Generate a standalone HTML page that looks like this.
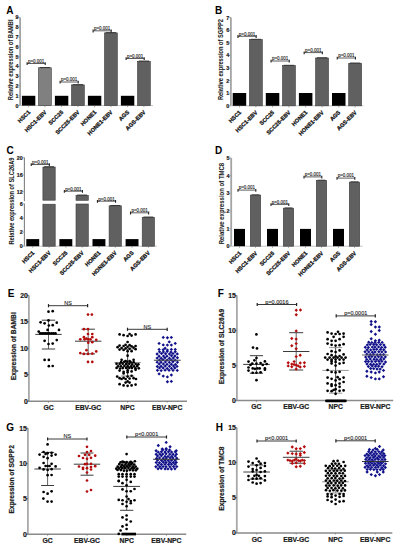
<!DOCTYPE html><html><head><meta charset="utf-8"><style>html,body{margin:0;padding:0;background:#fff;width:400px;height:550px;overflow:hidden;position:relative}text{font-family:"Liberation Sans", sans-serif}</style></head><body><svg width="400" height="550" viewBox="0 0 400 550" style="position:absolute;left:0;top:0;font-family:'Liberation Sans', sans-serif">
<rect width="400" height="550" fill="#ffffff"/>
<text transform="translate(6.20 13.50) scale(1.0 1)" font-size="10.0" font-weight="bold" fill="#000">A</text>
<text transform="translate(12.90 59.80) rotate(-90) scale(0.9090909090909091 1)" font-size="6.2700000000000005" font-weight="bold" text-anchor="middle" fill="#1a1a1a" stroke="#1a1a1a" stroke-width="0.05">Relative expression of BAMBI</text>
<line x1="20.10" y1="17.40" x2="20.10" y2="105.60" stroke="#a4a4a4" stroke-width="1.8"/>
<line x1="18.20" y1="105.60" x2="20.10" y2="105.60" stroke="#999" stroke-width="0.8"/>
<text transform="translate(18.40 107.65) scale(0.92 1)" font-size="5.8" font-weight="bold" text-anchor="end" fill="#1a1a1a" stroke="#1a1a1a" stroke-width="0.2">0</text>
<line x1="18.20" y1="95.80" x2="20.10" y2="95.80" stroke="#999" stroke-width="0.8"/>
<text transform="translate(18.40 97.85) scale(0.92 1)" font-size="5.8" font-weight="bold" text-anchor="end" fill="#1a1a1a" stroke="#1a1a1a" stroke-width="0.2">1</text>
<line x1="18.20" y1="86.00" x2="20.10" y2="86.00" stroke="#999" stroke-width="0.8"/>
<text transform="translate(18.40 88.05) scale(0.92 1)" font-size="5.8" font-weight="bold" text-anchor="end" fill="#1a1a1a" stroke="#1a1a1a" stroke-width="0.2">2</text>
<line x1="18.20" y1="76.20" x2="20.10" y2="76.20" stroke="#999" stroke-width="0.8"/>
<text transform="translate(18.40 78.25) scale(0.92 1)" font-size="5.8" font-weight="bold" text-anchor="end" fill="#1a1a1a" stroke="#1a1a1a" stroke-width="0.2">3</text>
<line x1="18.20" y1="66.40" x2="20.10" y2="66.40" stroke="#999" stroke-width="0.8"/>
<text transform="translate(18.40 68.45) scale(0.92 1)" font-size="5.8" font-weight="bold" text-anchor="end" fill="#1a1a1a" stroke="#1a1a1a" stroke-width="0.2">4</text>
<line x1="18.20" y1="56.60" x2="20.10" y2="56.60" stroke="#999" stroke-width="0.8"/>
<text transform="translate(18.40 58.65) scale(0.92 1)" font-size="5.8" font-weight="bold" text-anchor="end" fill="#1a1a1a" stroke="#1a1a1a" stroke-width="0.2">5</text>
<line x1="18.20" y1="46.80" x2="20.10" y2="46.80" stroke="#999" stroke-width="0.8"/>
<text transform="translate(18.40 48.85) scale(0.92 1)" font-size="5.8" font-weight="bold" text-anchor="end" fill="#1a1a1a" stroke="#1a1a1a" stroke-width="0.2">6</text>
<line x1="18.20" y1="37.00" x2="20.10" y2="37.00" stroke="#999" stroke-width="0.8"/>
<text transform="translate(18.40 39.05) scale(0.92 1)" font-size="5.8" font-weight="bold" text-anchor="end" fill="#1a1a1a" stroke="#1a1a1a" stroke-width="0.2">7</text>
<line x1="18.20" y1="27.20" x2="20.10" y2="27.20" stroke="#999" stroke-width="0.8"/>
<text transform="translate(18.40 29.25) scale(0.92 1)" font-size="5.8" font-weight="bold" text-anchor="end" fill="#1a1a1a" stroke="#1a1a1a" stroke-width="0.2">8</text>
<line x1="18.20" y1="17.40" x2="20.10" y2="17.40" stroke="#999" stroke-width="0.8"/>
<text transform="translate(18.40 19.45) scale(0.92 1)" font-size="5.8" font-weight="bold" text-anchor="end" fill="#1a1a1a" stroke="#1a1a1a" stroke-width="0.2">9</text>
<line x1="20.10" y1="105.60" x2="153.00" y2="105.60" stroke="#c4c4c4" stroke-width="1.0"/>
<rect x="21.90" y="95.80" width="13.40" height="9.80" fill="#000"/>
<rect x="38.50" y="67.80" width="12.80" height="37.80" fill="#808080" stroke="#3a3a3a" stroke-width="0.6"/>
<line x1="39.70" y1="67.50" x2="50.10" y2="67.50" stroke="#222" stroke-width="0.8"/>
<line x1="28.60" y1="105.60" x2="28.60" y2="107.20" stroke="#6e6e6e" stroke-width="0.6"/>
<line x1="44.90" y1="105.60" x2="44.90" y2="107.20" stroke="#6e6e6e" stroke-width="0.6"/>
<line x1="27.10" y1="63.50" x2="45.20" y2="63.50" stroke="#333" stroke-width="0.8"/>
<line x1="27.10" y1="62.30" x2="27.10" y2="65.10" stroke="#222" stroke-width="1.1"/>
<line x1="45.20" y1="62.30" x2="45.20" y2="65.10" stroke="#222" stroke-width="1.1"/>
<text x="36.15" y="62.80" font-size="4.5" font-weight="normal" text-anchor="middle" fill="#222" stroke="#222" stroke-width="0.12">p=0.001</text>
<text x="30.60" y="112.60" font-size="5.6" font-weight="bold" text-anchor="end" fill="#111" stroke="#111" stroke-width="0.28" transform="rotate(-45 30.60 112.60)">HSC1</text>
<text x="46.90" y="112.60" font-size="5.6" font-weight="bold" text-anchor="end" fill="#111" stroke="#111" stroke-width="0.28" transform="rotate(-45 46.90 112.60)">HSC1-EBV</text>
<rect x="54.90" y="95.80" width="13.40" height="9.80" fill="#000"/>
<rect x="71.50" y="84.90" width="12.80" height="20.70" fill="#606060" stroke="#3a3a3a" stroke-width="0.6"/>
<line x1="72.70" y1="84.60" x2="83.10" y2="84.60" stroke="#222" stroke-width="0.8"/>
<line x1="61.60" y1="105.60" x2="61.60" y2="107.20" stroke="#6e6e6e" stroke-width="0.6"/>
<line x1="77.90" y1="105.60" x2="77.90" y2="107.20" stroke="#6e6e6e" stroke-width="0.6"/>
<line x1="60.10" y1="82.00" x2="78.20" y2="82.00" stroke="#333" stroke-width="0.8"/>
<line x1="60.10" y1="80.80" x2="60.10" y2="83.60" stroke="#222" stroke-width="1.1"/>
<line x1="78.20" y1="80.80" x2="78.20" y2="83.60" stroke="#222" stroke-width="1.1"/>
<text x="69.15" y="81.30" font-size="4.5" font-weight="normal" text-anchor="middle" fill="#222" stroke="#222" stroke-width="0.12">p=0.001</text>
<text x="63.60" y="112.60" font-size="5.6" font-weight="bold" text-anchor="end" fill="#111" stroke="#111" stroke-width="0.28" transform="rotate(-45 63.60 112.60)">SCC25</text>
<text x="79.90" y="112.60" font-size="5.6" font-weight="bold" text-anchor="end" fill="#111" stroke="#111" stroke-width="0.28" transform="rotate(-45 79.90 112.60)">SCC25-EBV</text>
<rect x="87.90" y="95.80" width="13.40" height="9.80" fill="#000"/>
<rect x="104.50" y="32.90" width="12.80" height="72.70" fill="#606060" stroke="#3a3a3a" stroke-width="0.6"/>
<line x1="105.70" y1="32.60" x2="116.10" y2="32.60" stroke="#222" stroke-width="0.8"/>
<line x1="94.60" y1="105.60" x2="94.60" y2="107.20" stroke="#6e6e6e" stroke-width="0.6"/>
<line x1="110.90" y1="105.60" x2="110.90" y2="107.20" stroke="#6e6e6e" stroke-width="0.6"/>
<line x1="93.10" y1="30.80" x2="111.20" y2="30.80" stroke="#333" stroke-width="0.8"/>
<line x1="93.10" y1="29.60" x2="93.10" y2="32.40" stroke="#222" stroke-width="1.1"/>
<line x1="111.20" y1="29.60" x2="111.20" y2="32.40" stroke="#222" stroke-width="1.1"/>
<text x="102.15" y="30.10" font-size="4.5" font-weight="normal" text-anchor="middle" fill="#222" stroke="#222" stroke-width="0.12">p=0.001</text>
<text x="96.60" y="112.60" font-size="5.6" font-weight="bold" text-anchor="end" fill="#111" stroke="#111" stroke-width="0.28" transform="rotate(-45 96.60 112.60)">HONE1</text>
<text x="112.90" y="112.60" font-size="5.6" font-weight="bold" text-anchor="end" fill="#111" stroke="#111" stroke-width="0.28" transform="rotate(-45 112.90 112.60)">HONE1-EBV</text>
<rect x="120.90" y="95.80" width="13.40" height="9.80" fill="#000"/>
<rect x="137.50" y="61.30" width="12.80" height="44.30" fill="#606060" stroke="#3a3a3a" stroke-width="0.6"/>
<line x1="138.70" y1="61.00" x2="149.10" y2="61.00" stroke="#222" stroke-width="0.8"/>
<line x1="127.60" y1="105.60" x2="127.60" y2="107.20" stroke="#6e6e6e" stroke-width="0.6"/>
<line x1="143.90" y1="105.60" x2="143.90" y2="107.20" stroke="#6e6e6e" stroke-width="0.6"/>
<line x1="126.10" y1="58.50" x2="144.20" y2="58.50" stroke="#333" stroke-width="0.8"/>
<line x1="126.10" y1="57.30" x2="126.10" y2="60.10" stroke="#222" stroke-width="1.1"/>
<line x1="144.20" y1="57.30" x2="144.20" y2="60.10" stroke="#222" stroke-width="1.1"/>
<text x="135.15" y="57.80" font-size="4.5" font-weight="normal" text-anchor="middle" fill="#222" stroke="#222" stroke-width="0.12">p=0.001</text>
<text x="129.60" y="112.60" font-size="5.6" font-weight="bold" text-anchor="end" fill="#111" stroke="#111" stroke-width="0.28" transform="rotate(-45 129.60 112.60)">AGS</text>
<text x="145.90" y="112.60" font-size="5.6" font-weight="bold" text-anchor="end" fill="#111" stroke="#111" stroke-width="0.28" transform="rotate(-45 145.90 112.60)">AGS-EBV</text>
<text transform="translate(214.90 13.50) scale(1.0 1)" font-size="10.0" font-weight="bold" fill="#000">B</text>
<text transform="translate(222.90 59.50) rotate(-90) scale(0.9090909090909091 1)" font-size="6.2700000000000005" font-weight="bold" text-anchor="middle" fill="#1a1a1a" stroke="#1a1a1a" stroke-width="0.05">Relative expression of SGPP2</text>
<line x1="230.90" y1="17.60" x2="230.90" y2="105.80" stroke="#a4a4a4" stroke-width="1.8"/>
<line x1="229.00" y1="105.80" x2="230.90" y2="105.80" stroke="#999" stroke-width="0.8"/>
<text transform="translate(229.20 107.85) scale(0.92 1)" font-size="5.8" font-weight="bold" text-anchor="end" fill="#1a1a1a" stroke="#1a1a1a" stroke-width="0.2">0</text>
<line x1="229.00" y1="93.20" x2="230.90" y2="93.20" stroke="#999" stroke-width="0.8"/>
<text transform="translate(229.20 95.25) scale(0.92 1)" font-size="5.8" font-weight="bold" text-anchor="end" fill="#1a1a1a" stroke="#1a1a1a" stroke-width="0.2">1</text>
<line x1="229.00" y1="80.60" x2="230.90" y2="80.60" stroke="#999" stroke-width="0.8"/>
<text transform="translate(229.20 82.65) scale(0.92 1)" font-size="5.8" font-weight="bold" text-anchor="end" fill="#1a1a1a" stroke="#1a1a1a" stroke-width="0.2">2</text>
<line x1="229.00" y1="68.00" x2="230.90" y2="68.00" stroke="#999" stroke-width="0.8"/>
<text transform="translate(229.20 70.05) scale(0.92 1)" font-size="5.8" font-weight="bold" text-anchor="end" fill="#1a1a1a" stroke="#1a1a1a" stroke-width="0.2">3</text>
<line x1="229.00" y1="55.40" x2="230.90" y2="55.40" stroke="#999" stroke-width="0.8"/>
<text transform="translate(229.20 57.45) scale(0.92 1)" font-size="5.8" font-weight="bold" text-anchor="end" fill="#1a1a1a" stroke="#1a1a1a" stroke-width="0.2">4</text>
<line x1="229.00" y1="42.80" x2="230.90" y2="42.80" stroke="#999" stroke-width="0.8"/>
<text transform="translate(229.20 44.85) scale(0.92 1)" font-size="5.8" font-weight="bold" text-anchor="end" fill="#1a1a1a" stroke="#1a1a1a" stroke-width="0.2">5</text>
<line x1="229.00" y1="30.20" x2="230.90" y2="30.20" stroke="#999" stroke-width="0.8"/>
<text transform="translate(229.20 32.25) scale(0.92 1)" font-size="5.8" font-weight="bold" text-anchor="end" fill="#1a1a1a" stroke="#1a1a1a" stroke-width="0.2">6</text>
<line x1="229.00" y1="17.60" x2="230.90" y2="17.60" stroke="#999" stroke-width="0.8"/>
<text transform="translate(229.20 19.65) scale(0.92 1)" font-size="5.8" font-weight="bold" text-anchor="end" fill="#1a1a1a" stroke="#1a1a1a" stroke-width="0.2">7</text>
<line x1="230.90" y1="105.80" x2="363.40" y2="105.80" stroke="#c4c4c4" stroke-width="1.0"/>
<rect x="232.70" y="93.00" width="13.50" height="12.80" fill="#000"/>
<rect x="249.40" y="39.60" width="12.90" height="66.20" fill="#606060" stroke="#3a3a3a" stroke-width="0.6"/>
<line x1="250.60" y1="39.30" x2="261.10" y2="39.30" stroke="#222" stroke-width="0.8"/>
<line x1="239.45" y1="105.80" x2="239.45" y2="107.40" stroke="#6e6e6e" stroke-width="0.6"/>
<line x1="255.85" y1="105.80" x2="255.85" y2="107.40" stroke="#6e6e6e" stroke-width="0.6"/>
<line x1="237.95" y1="36.30" x2="256.15" y2="36.30" stroke="#333" stroke-width="0.8"/>
<line x1="237.95" y1="35.10" x2="237.95" y2="37.90" stroke="#222" stroke-width="1.1"/>
<line x1="256.15" y1="35.10" x2="256.15" y2="37.90" stroke="#222" stroke-width="1.1"/>
<text x="247.05" y="35.60" font-size="4.5" font-weight="normal" text-anchor="middle" fill="#222" stroke="#222" stroke-width="0.12">p=0.001</text>
<text x="241.45" y="112.80" font-size="5.6" font-weight="bold" text-anchor="end" fill="#111" stroke="#111" stroke-width="0.28" transform="rotate(-45 241.45 112.80)">HSC1</text>
<text x="257.85" y="112.80" font-size="5.6" font-weight="bold" text-anchor="end" fill="#111" stroke="#111" stroke-width="0.28" transform="rotate(-45 257.85 112.80)">HSC1-EBV</text>
<rect x="265.80" y="93.00" width="13.50" height="12.80" fill="#000"/>
<rect x="282.50" y="65.60" width="12.90" height="40.20" fill="#606060" stroke="#3a3a3a" stroke-width="0.6"/>
<line x1="283.70" y1="65.30" x2="294.20" y2="65.30" stroke="#222" stroke-width="0.8"/>
<line x1="272.55" y1="105.80" x2="272.55" y2="107.40" stroke="#6e6e6e" stroke-width="0.6"/>
<line x1="288.95" y1="105.80" x2="288.95" y2="107.40" stroke="#6e6e6e" stroke-width="0.6"/>
<line x1="271.05" y1="61.00" x2="289.25" y2="61.00" stroke="#333" stroke-width="0.8"/>
<line x1="271.05" y1="59.80" x2="271.05" y2="62.60" stroke="#222" stroke-width="1.1"/>
<line x1="289.25" y1="59.80" x2="289.25" y2="62.60" stroke="#222" stroke-width="1.1"/>
<text x="280.15" y="60.30" font-size="4.5" font-weight="normal" text-anchor="middle" fill="#222" stroke="#222" stroke-width="0.12">p=0.001</text>
<text x="274.55" y="112.80" font-size="5.6" font-weight="bold" text-anchor="end" fill="#111" stroke="#111" stroke-width="0.28" transform="rotate(-45 274.55 112.80)">SCC25</text>
<text x="290.95" y="112.80" font-size="5.6" font-weight="bold" text-anchor="end" fill="#111" stroke="#111" stroke-width="0.28" transform="rotate(-45 290.95 112.80)">SCC25-EBV</text>
<rect x="298.90" y="93.00" width="13.50" height="12.80" fill="#000"/>
<rect x="315.60" y="58.00" width="12.90" height="47.80" fill="#606060" stroke="#3a3a3a" stroke-width="0.6"/>
<line x1="316.80" y1="57.70" x2="327.30" y2="57.70" stroke="#222" stroke-width="0.8"/>
<line x1="305.65" y1="105.80" x2="305.65" y2="107.40" stroke="#6e6e6e" stroke-width="0.6"/>
<line x1="322.05" y1="105.80" x2="322.05" y2="107.40" stroke="#6e6e6e" stroke-width="0.6"/>
<line x1="304.15" y1="52.60" x2="322.35" y2="52.60" stroke="#333" stroke-width="0.8"/>
<line x1="304.15" y1="51.40" x2="304.15" y2="54.20" stroke="#222" stroke-width="1.1"/>
<line x1="322.35" y1="51.40" x2="322.35" y2="54.20" stroke="#222" stroke-width="1.1"/>
<text x="313.25" y="51.90" font-size="4.5" font-weight="normal" text-anchor="middle" fill="#222" stroke="#222" stroke-width="0.12">p=0.001</text>
<text x="307.65" y="112.80" font-size="5.6" font-weight="bold" text-anchor="end" fill="#111" stroke="#111" stroke-width="0.28" transform="rotate(-45 307.65 112.80)">HONE1</text>
<text x="324.05" y="112.80" font-size="5.6" font-weight="bold" text-anchor="end" fill="#111" stroke="#111" stroke-width="0.28" transform="rotate(-45 324.05 112.80)">HONE1-EBV</text>
<rect x="332.00" y="93.00" width="13.50" height="12.80" fill="#000"/>
<rect x="348.70" y="63.30" width="12.90" height="42.50" fill="#606060" stroke="#3a3a3a" stroke-width="0.6"/>
<line x1="349.90" y1="63.00" x2="360.40" y2="63.00" stroke="#222" stroke-width="0.8"/>
<line x1="338.75" y1="105.80" x2="338.75" y2="107.40" stroke="#6e6e6e" stroke-width="0.6"/>
<line x1="355.15" y1="105.80" x2="355.15" y2="107.40" stroke="#6e6e6e" stroke-width="0.6"/>
<line x1="337.25" y1="58.00" x2="355.45" y2="58.00" stroke="#333" stroke-width="0.8"/>
<line x1="337.25" y1="56.80" x2="337.25" y2="59.60" stroke="#222" stroke-width="1.1"/>
<line x1="355.45" y1="56.80" x2="355.45" y2="59.60" stroke="#222" stroke-width="1.1"/>
<text x="346.35" y="57.30" font-size="4.5" font-weight="normal" text-anchor="middle" fill="#222" stroke="#222" stroke-width="0.12">p=0.001</text>
<text x="340.75" y="112.80" font-size="5.6" font-weight="bold" text-anchor="end" fill="#111" stroke="#111" stroke-width="0.28" transform="rotate(-45 340.75 112.80)">AGS</text>
<text x="357.15" y="112.80" font-size="5.6" font-weight="bold" text-anchor="end" fill="#111" stroke="#111" stroke-width="0.28" transform="rotate(-45 357.15 112.80)">AGS-EBV</text>
<text transform="translate(6.40 153.50) scale(1.0 1)" font-size="10.0" font-weight="bold" fill="#000">C</text>
<text transform="translate(14.20 201.00) rotate(-90) scale(0.9090909090909091 1)" font-size="6.2700000000000005" font-weight="bold" text-anchor="middle" fill="#1a1a1a" stroke="#1a1a1a" stroke-width="0.05">Relative expression of SLC26A9</text>
<line x1="24.40" y1="157.60" x2="24.40" y2="201.30" stroke="#808080" stroke-width="1.1"/>
<line x1="24.40" y1="203.60" x2="24.40" y2="246.20" stroke="#808080" stroke-width="1.1"/>
<line x1="22.50" y1="157.75" x2="24.40" y2="157.75" stroke="#999" stroke-width="0.8"/>
<text transform="translate(22.70 159.80) scale(0.92 1)" font-size="5.8" font-weight="bold" text-anchor="end" fill="#1a1a1a" stroke="#1a1a1a" stroke-width="0.2">20</text>
<line x1="22.50" y1="175.00" x2="24.40" y2="175.00" stroke="#999" stroke-width="0.8"/>
<text transform="translate(22.70 177.05) scale(0.92 1)" font-size="5.8" font-weight="bold" text-anchor="end" fill="#1a1a1a" stroke="#1a1a1a" stroke-width="0.2">16</text>
<line x1="22.50" y1="191.75" x2="24.40" y2="191.75" stroke="#999" stroke-width="0.8"/>
<text transform="translate(22.70 193.80) scale(0.92 1)" font-size="5.8" font-weight="bold" text-anchor="end" fill="#1a1a1a" stroke="#1a1a1a" stroke-width="0.2">12</text>
<line x1="22.50" y1="203.80" x2="24.40" y2="203.80" stroke="#999" stroke-width="0.8"/>
<text transform="translate(22.70 205.85) scale(0.92 1)" font-size="5.8" font-weight="bold" text-anchor="end" fill="#1a1a1a" stroke="#1a1a1a" stroke-width="0.2">6</text>
<line x1="22.50" y1="218.00" x2="24.40" y2="218.00" stroke="#999" stroke-width="0.8"/>
<text transform="translate(22.70 220.05) scale(0.92 1)" font-size="5.8" font-weight="bold" text-anchor="end" fill="#1a1a1a" stroke="#1a1a1a" stroke-width="0.2">4</text>
<line x1="22.50" y1="232.10" x2="24.40" y2="232.10" stroke="#999" stroke-width="0.8"/>
<text transform="translate(22.70 234.15) scale(0.92 1)" font-size="5.8" font-weight="bold" text-anchor="end" fill="#1a1a1a" stroke="#1a1a1a" stroke-width="0.2">2</text>
<line x1="22.50" y1="246.20" x2="24.40" y2="246.20" stroke="#999" stroke-width="0.8"/>
<text transform="translate(22.70 248.25) scale(0.92 1)" font-size="5.8" font-weight="bold" text-anchor="end" fill="#1a1a1a" stroke="#1a1a1a" stroke-width="0.2">0</text>
<line x1="24.40" y1="246.20" x2="157.00" y2="246.20" stroke="#c4c4c4" stroke-width="1.0"/>
<rect x="26.30" y="239.10" width="12.90" height="7.10" fill="#000"/>
<rect x="42.90" y="167.00" width="12.30" height="33.20" fill="#606060" stroke="#3a3a3a" stroke-width="0.6"/>
<rect x="42.90" y="204.20" width="12.30" height="42.00" fill="#606060" stroke="#3a3a3a" stroke-width="0.6"/>
<line x1="44.10" y1="166.70" x2="54.00" y2="166.70" stroke="#222" stroke-width="0.8"/>
<line x1="32.75" y1="246.20" x2="32.75" y2="247.80" stroke="#6e6e6e" stroke-width="0.6"/>
<line x1="49.05" y1="246.20" x2="49.05" y2="247.80" stroke="#6e6e6e" stroke-width="0.6"/>
<line x1="31.25" y1="164.50" x2="49.35" y2="164.50" stroke="#333" stroke-width="0.8"/>
<line x1="31.25" y1="163.30" x2="31.25" y2="166.10" stroke="#222" stroke-width="1.1"/>
<line x1="49.35" y1="163.30" x2="49.35" y2="166.10" stroke="#222" stroke-width="1.1"/>
<text x="40.30" y="163.80" font-size="4.5" font-weight="normal" text-anchor="middle" fill="#222" stroke="#222" stroke-width="0.12">p=0.001</text>
<text x="34.75" y="253.20" font-size="5.6" font-weight="bold" text-anchor="end" fill="#111" stroke="#111" stroke-width="0.28" transform="rotate(-45 34.75 253.20)">HSC1</text>
<text x="51.05" y="253.20" font-size="5.6" font-weight="bold" text-anchor="end" fill="#111" stroke="#111" stroke-width="0.28" transform="rotate(-45 51.05 253.20)">HSC1-EBV</text>
<rect x="59.40" y="239.10" width="12.90" height="7.10" fill="#000"/>
<rect x="76.00" y="195.30" width="12.30" height="5.00" fill="#606060" stroke="#3a3a3a" stroke-width="0.6"/>
<rect x="76.00" y="204.00" width="12.30" height="42.20" fill="#606060" stroke="#3a3a3a" stroke-width="0.6"/>
<line x1="77.20" y1="195.00" x2="87.10" y2="195.00" stroke="#222" stroke-width="0.8"/>
<line x1="65.85" y1="246.20" x2="65.85" y2="247.80" stroke="#6e6e6e" stroke-width="0.6"/>
<line x1="82.15" y1="246.20" x2="82.15" y2="247.80" stroke="#6e6e6e" stroke-width="0.6"/>
<line x1="64.35" y1="191.20" x2="82.45" y2="191.20" stroke="#333" stroke-width="0.8"/>
<line x1="64.35" y1="190.00" x2="64.35" y2="192.80" stroke="#222" stroke-width="1.1"/>
<line x1="82.45" y1="190.00" x2="82.45" y2="192.80" stroke="#222" stroke-width="1.1"/>
<text x="73.40" y="190.50" font-size="4.5" font-weight="normal" text-anchor="middle" fill="#222" stroke="#222" stroke-width="0.12">p=0.001</text>
<text x="67.85" y="253.20" font-size="5.6" font-weight="bold" text-anchor="end" fill="#111" stroke="#111" stroke-width="0.28" transform="rotate(-45 67.85 253.20)">SCC25</text>
<text x="84.15" y="253.20" font-size="5.6" font-weight="bold" text-anchor="end" fill="#111" stroke="#111" stroke-width="0.28" transform="rotate(-45 84.15 253.20)">SCC25-EBV</text>
<rect x="92.50" y="239.10" width="12.90" height="7.10" fill="#000"/>
<rect x="109.10" y="205.80" width="12.30" height="40.40" fill="#606060" stroke="#3a3a3a" stroke-width="0.6"/>
<line x1="110.30" y1="205.50" x2="120.20" y2="205.50" stroke="#222" stroke-width="0.8"/>
<line x1="98.95" y1="246.20" x2="98.95" y2="247.80" stroke="#6e6e6e" stroke-width="0.6"/>
<line x1="115.25" y1="246.20" x2="115.25" y2="247.80" stroke="#6e6e6e" stroke-width="0.6"/>
<line x1="97.45" y1="201.20" x2="115.55" y2="201.20" stroke="#333" stroke-width="0.8"/>
<line x1="97.45" y1="200.00" x2="97.45" y2="202.80" stroke="#222" stroke-width="1.1"/>
<line x1="115.55" y1="200.00" x2="115.55" y2="202.80" stroke="#222" stroke-width="1.1"/>
<text x="106.50" y="200.50" font-size="4.5" font-weight="normal" text-anchor="middle" fill="#222" stroke="#222" stroke-width="0.12">p=0.001</text>
<text x="100.95" y="253.20" font-size="5.6" font-weight="bold" text-anchor="end" fill="#111" stroke="#111" stroke-width="0.28" transform="rotate(-45 100.95 253.20)">HONE1</text>
<text x="117.25" y="253.20" font-size="5.6" font-weight="bold" text-anchor="end" fill="#111" stroke="#111" stroke-width="0.28" transform="rotate(-45 117.25 253.20)">HONE1-EBV</text>
<rect x="125.60" y="239.10" width="12.90" height="7.10" fill="#000"/>
<rect x="142.20" y="217.30" width="12.30" height="28.90" fill="#606060" stroke="#3a3a3a" stroke-width="0.6"/>
<line x1="143.40" y1="217.00" x2="153.30" y2="217.00" stroke="#222" stroke-width="0.8"/>
<line x1="132.05" y1="246.20" x2="132.05" y2="247.80" stroke="#6e6e6e" stroke-width="0.6"/>
<line x1="148.35" y1="246.20" x2="148.35" y2="247.80" stroke="#6e6e6e" stroke-width="0.6"/>
<line x1="130.55" y1="212.80" x2="148.65" y2="212.80" stroke="#333" stroke-width="0.8"/>
<line x1="130.55" y1="211.60" x2="130.55" y2="214.40" stroke="#222" stroke-width="1.1"/>
<line x1="148.65" y1="211.60" x2="148.65" y2="214.40" stroke="#222" stroke-width="1.1"/>
<text x="139.60" y="212.10" font-size="4.5" font-weight="normal" text-anchor="middle" fill="#222" stroke="#222" stroke-width="0.12">p=0.001</text>
<text x="134.05" y="253.20" font-size="5.6" font-weight="bold" text-anchor="end" fill="#111" stroke="#111" stroke-width="0.28" transform="rotate(-45 134.05 253.20)">AGS</text>
<text x="150.35" y="253.20" font-size="5.6" font-weight="bold" text-anchor="end" fill="#111" stroke="#111" stroke-width="0.28" transform="rotate(-45 150.35 253.20)">AGS-EBV</text>
<text transform="translate(214.90 153.50) scale(1.0 1)" font-size="10.0" font-weight="bold" fill="#000">D</text>
<text transform="translate(223.60 203.60) rotate(-90) scale(0.9090909090909091 1)" font-size="6.6000000000000005" font-weight="bold" text-anchor="middle" fill="#1a1a1a" stroke="#1a1a1a" stroke-width="0.05">Relative expression of TMC8</text>
<line x1="231.20" y1="158.00" x2="231.20" y2="246.20" stroke="#a4a4a4" stroke-width="1.8"/>
<line x1="229.30" y1="246.20" x2="231.20" y2="246.20" stroke="#999" stroke-width="0.8"/>
<text transform="translate(229.50 248.25) scale(0.92 1)" font-size="5.8" font-weight="bold" text-anchor="end" fill="#1a1a1a" stroke="#1a1a1a" stroke-width="0.2">0</text>
<line x1="229.30" y1="228.56" x2="231.20" y2="228.56" stroke="#999" stroke-width="0.8"/>
<text transform="translate(229.50 230.61) scale(0.92 1)" font-size="5.8" font-weight="bold" text-anchor="end" fill="#1a1a1a" stroke="#1a1a1a" stroke-width="0.2">1</text>
<line x1="229.30" y1="210.92" x2="231.20" y2="210.92" stroke="#999" stroke-width="0.8"/>
<text transform="translate(229.50 212.97) scale(0.92 1)" font-size="5.8" font-weight="bold" text-anchor="end" fill="#1a1a1a" stroke="#1a1a1a" stroke-width="0.2">2</text>
<line x1="229.30" y1="193.28" x2="231.20" y2="193.28" stroke="#999" stroke-width="0.8"/>
<text transform="translate(229.50 195.33) scale(0.92 1)" font-size="5.8" font-weight="bold" text-anchor="end" fill="#1a1a1a" stroke="#1a1a1a" stroke-width="0.2">3</text>
<line x1="229.30" y1="175.64" x2="231.20" y2="175.64" stroke="#999" stroke-width="0.8"/>
<text transform="translate(229.50 177.69) scale(0.92 1)" font-size="5.8" font-weight="bold" text-anchor="end" fill="#1a1a1a" stroke="#1a1a1a" stroke-width="0.2">4</text>
<line x1="229.30" y1="158.00" x2="231.20" y2="158.00" stroke="#999" stroke-width="0.8"/>
<text transform="translate(229.50 160.05) scale(0.92 1)" font-size="5.8" font-weight="bold" text-anchor="end" fill="#1a1a1a" stroke="#1a1a1a" stroke-width="0.2">5</text>
<line x1="231.20" y1="246.20" x2="362.50" y2="246.20" stroke="#c4c4c4" stroke-width="1.0"/>
<rect x="234.00" y="228.90" width="11.00" height="17.30" fill="#000"/>
<rect x="250.30" y="195.10" width="10.40" height="51.10" fill="#606060" stroke="#3a3a3a" stroke-width="0.6"/>
<line x1="251.50" y1="194.80" x2="259.50" y2="194.80" stroke="#222" stroke-width="0.8"/>
<line x1="239.50" y1="246.20" x2="239.50" y2="247.80" stroke="#6e6e6e" stroke-width="0.6"/>
<line x1="255.50" y1="246.20" x2="255.50" y2="247.80" stroke="#6e6e6e" stroke-width="0.6"/>
<line x1="238.00" y1="190.10" x2="255.80" y2="190.10" stroke="#333" stroke-width="0.8"/>
<line x1="238.00" y1="188.90" x2="238.00" y2="191.70" stroke="#222" stroke-width="1.1"/>
<line x1="255.80" y1="188.90" x2="255.80" y2="191.70" stroke="#222" stroke-width="1.1"/>
<text x="246.90" y="189.40" font-size="4.5" font-weight="normal" text-anchor="middle" fill="#222" stroke="#222" stroke-width="0.12">p=0.001</text>
<text x="241.70" y="253.60" font-size="5.6" font-weight="bold" text-anchor="end" fill="#111" stroke="#111" stroke-width="0.28" transform="rotate(-45 241.70 253.60)">HSC1</text>
<text x="257.70" y="253.60" font-size="5.6" font-weight="bold" text-anchor="end" fill="#111" stroke="#111" stroke-width="0.28" transform="rotate(-45 257.70 253.60)">HSC1-EBV</text>
<rect x="267.00" y="228.90" width="11.00" height="17.30" fill="#000"/>
<rect x="283.30" y="208.20" width="10.40" height="38.00" fill="#606060" stroke="#3a3a3a" stroke-width="0.6"/>
<line x1="284.50" y1="207.90" x2="292.50" y2="207.90" stroke="#222" stroke-width="0.8"/>
<line x1="272.50" y1="246.20" x2="272.50" y2="247.80" stroke="#6e6e6e" stroke-width="0.6"/>
<line x1="288.50" y1="246.20" x2="288.50" y2="247.80" stroke="#6e6e6e" stroke-width="0.6"/>
<line x1="271.00" y1="204.40" x2="288.80" y2="204.40" stroke="#333" stroke-width="0.8"/>
<line x1="271.00" y1="203.20" x2="271.00" y2="206.00" stroke="#222" stroke-width="1.1"/>
<line x1="288.80" y1="203.20" x2="288.80" y2="206.00" stroke="#222" stroke-width="1.1"/>
<text x="279.90" y="203.70" font-size="4.5" font-weight="normal" text-anchor="middle" fill="#222" stroke="#222" stroke-width="0.12">p=0.001</text>
<text x="274.70" y="253.60" font-size="5.6" font-weight="bold" text-anchor="end" fill="#111" stroke="#111" stroke-width="0.28" transform="rotate(-45 274.70 253.60)">SCC25</text>
<text x="290.70" y="253.60" font-size="5.6" font-weight="bold" text-anchor="end" fill="#111" stroke="#111" stroke-width="0.28" transform="rotate(-45 290.70 253.60)">SCC25-EBV</text>
<rect x="300.00" y="228.90" width="11.00" height="17.30" fill="#000"/>
<rect x="316.30" y="180.50" width="10.40" height="65.70" fill="#606060" stroke="#3a3a3a" stroke-width="0.6"/>
<line x1="317.50" y1="180.20" x2="325.50" y2="180.20" stroke="#222" stroke-width="0.8"/>
<line x1="305.50" y1="246.20" x2="305.50" y2="247.80" stroke="#6e6e6e" stroke-width="0.6"/>
<line x1="321.50" y1="246.20" x2="321.50" y2="247.80" stroke="#6e6e6e" stroke-width="0.6"/>
<line x1="304.00" y1="176.90" x2="321.80" y2="176.90" stroke="#333" stroke-width="0.8"/>
<line x1="304.00" y1="175.70" x2="304.00" y2="178.50" stroke="#222" stroke-width="1.1"/>
<line x1="321.80" y1="175.70" x2="321.80" y2="178.50" stroke="#222" stroke-width="1.1"/>
<text x="312.90" y="176.20" font-size="4.5" font-weight="normal" text-anchor="middle" fill="#222" stroke="#222" stroke-width="0.12">p=0.001</text>
<text x="307.70" y="253.60" font-size="5.6" font-weight="bold" text-anchor="end" fill="#111" stroke="#111" stroke-width="0.28" transform="rotate(-45 307.70 253.60)">HONE1</text>
<text x="323.70" y="253.60" font-size="5.6" font-weight="bold" text-anchor="end" fill="#111" stroke="#111" stroke-width="0.28" transform="rotate(-45 323.70 253.60)">HONE1-EBV</text>
<rect x="333.00" y="228.90" width="11.00" height="17.30" fill="#000"/>
<rect x="349.30" y="182.10" width="10.40" height="64.10" fill="#606060" stroke="#3a3a3a" stroke-width="0.6"/>
<line x1="350.50" y1="181.80" x2="358.50" y2="181.80" stroke="#222" stroke-width="0.8"/>
<line x1="338.50" y1="246.20" x2="338.50" y2="247.80" stroke="#6e6e6e" stroke-width="0.6"/>
<line x1="354.50" y1="246.20" x2="354.50" y2="247.80" stroke="#6e6e6e" stroke-width="0.6"/>
<line x1="337.00" y1="178.10" x2="354.80" y2="178.10" stroke="#333" stroke-width="0.8"/>
<line x1="337.00" y1="176.90" x2="337.00" y2="179.70" stroke="#222" stroke-width="1.1"/>
<line x1="354.80" y1="176.90" x2="354.80" y2="179.70" stroke="#222" stroke-width="1.1"/>
<text x="345.90" y="177.40" font-size="4.5" font-weight="normal" text-anchor="middle" fill="#222" stroke="#222" stroke-width="0.12">p=0.001</text>
<text x="340.70" y="253.60" font-size="5.6" font-weight="bold" text-anchor="end" fill="#111" stroke="#111" stroke-width="0.28" transform="rotate(-45 340.70 253.60)">AGS</text>
<text x="356.70" y="253.60" font-size="5.6" font-weight="bold" text-anchor="end" fill="#111" stroke="#111" stroke-width="0.28" transform="rotate(-45 356.70 253.60)">AGS-EBV</text>
<text transform="translate(7.80 296.80) scale(1.0 1)" font-size="10.0" font-weight="bold" fill="#000">E</text>
<text x="15.50" y="346.25" font-size="6.7" font-weight="bold" text-anchor="middle" fill="#1a1a1a" stroke="#1a1a1a" stroke-width="0.2" transform="rotate(-90 15.50 346.25)">Expression of BAMBI</text>
<line x1="28.90" y1="295.40" x2="28.90" y2="401.20" stroke="#a8a8a8" stroke-width="1.8"/>
<line x1="27.10" y1="295.40" x2="28.90" y2="295.40" stroke="#666" stroke-width="0.9"/>
<text x="27.90" y="297.80" font-size="6.9" font-weight="bold" text-anchor="end" fill="#1a1a1a" stroke="#1a1a1a" stroke-width="0.2">20</text>
<line x1="27.10" y1="321.80" x2="28.90" y2="321.80" stroke="#666" stroke-width="0.9"/>
<text x="27.90" y="324.20" font-size="6.9" font-weight="bold" text-anchor="end" fill="#1a1a1a" stroke="#1a1a1a" stroke-width="0.2">15</text>
<line x1="27.10" y1="348.30" x2="28.90" y2="348.30" stroke="#666" stroke-width="0.9"/>
<text x="27.90" y="350.70" font-size="6.9" font-weight="bold" text-anchor="end" fill="#1a1a1a" stroke="#1a1a1a" stroke-width="0.2">10</text>
<line x1="27.10" y1="374.70" x2="28.90" y2="374.70" stroke="#666" stroke-width="0.9"/>
<text x="27.90" y="377.10" font-size="6.9" font-weight="bold" text-anchor="end" fill="#1a1a1a" stroke="#1a1a1a" stroke-width="0.2">5</text>
<line x1="27.10" y1="401.20" x2="28.90" y2="401.20" stroke="#666" stroke-width="0.9"/>
<text x="27.90" y="403.60" font-size="6.9" font-weight="bold" text-anchor="end" fill="#1a1a1a" stroke="#1a1a1a" stroke-width="0.2">0</text>
<line x1="28.00" y1="401.20" x2="187.00" y2="401.20" stroke="#8a8a8a" stroke-width="1.5"/>
<line x1="48.50" y1="401.20" x2="48.50" y2="402.80" stroke="#6e6e6e" stroke-width="0.6"/>
<text x="48.50" y="409.70" font-size="6.8" font-weight="bold" text-anchor="middle" fill="#1a1a1a" stroke="#1a1a1a" stroke-width="0.2">GC</text>
<line x1="88.20" y1="401.20" x2="88.20" y2="402.80" stroke="#6e6e6e" stroke-width="0.6"/>
<text x="88.20" y="409.70" font-size="6.8" font-weight="bold" text-anchor="middle" fill="#1a1a1a" stroke="#1a1a1a" stroke-width="0.2">EBV-GC</text>
<line x1="127.50" y1="401.20" x2="127.50" y2="402.80" stroke="#6e6e6e" stroke-width="0.6"/>
<text x="127.50" y="409.70" font-size="6.8" font-weight="bold" text-anchor="middle" fill="#1a1a1a" stroke="#1a1a1a" stroke-width="0.2">NPC</text>
<line x1="167.20" y1="401.20" x2="167.20" y2="402.80" stroke="#6e6e6e" stroke-width="0.6"/>
<text x="167.20" y="409.70" font-size="6.8" font-weight="bold" text-anchor="middle" fill="#1a1a1a" stroke="#1a1a1a" stroke-width="0.2">EBV-NPC</text>
<line x1="48.50" y1="305.70" x2="87.60" y2="305.70" stroke="#3a3a3a" stroke-width="1.0"/>
<line x1="48.50" y1="304.10" x2="48.50" y2="307.30" stroke="#222" stroke-width="1.2"/>
<line x1="87.60" y1="304.10" x2="87.60" y2="307.30" stroke="#222" stroke-width="1.2"/>
<text x="68.05" y="305.00" font-size="5.5" font-weight="normal" text-anchor="middle" fill="#222" stroke="#222" stroke-width="0.12">NS</text>
<line x1="127.50" y1="329.30" x2="167.20" y2="329.30" stroke="#3a3a3a" stroke-width="1.0"/>
<line x1="127.50" y1="327.70" x2="127.50" y2="330.90" stroke="#222" stroke-width="1.2"/>
<line x1="167.20" y1="327.70" x2="167.20" y2="330.90" stroke="#222" stroke-width="1.2"/>
<text x="147.35" y="328.60" font-size="5.5" font-weight="normal" text-anchor="middle" fill="#222" stroke="#222" stroke-width="0.12">NS</text>
<line x1="48.50" y1="320.20" x2="48.50" y2="349.00" stroke="#3c3c3c" stroke-width="0.8"/>
<line x1="35.30" y1="334.40" x2="61.70" y2="334.40" stroke="#3c3c3c" stroke-width="1.0"/>
<line x1="41.80" y1="320.20" x2="55.20" y2="320.20" stroke="#3c3c3c" stroke-width="1.0"/>
<line x1="41.80" y1="349.00" x2="55.20" y2="349.00" stroke="#3c3c3c" stroke-width="1.0"/>
<circle cx="48.50" cy="311.70" r="1.35" fill="#000000"/>
<circle cx="52.70" cy="311.20" r="1.35" fill="#000000"/>
<circle cx="48.50" cy="320.40" r="1.35" fill="#000000"/>
<circle cx="40.60" cy="322.30" r="1.35" fill="#000000"/>
<circle cx="44.60" cy="323.30" r="1.35" fill="#000000"/>
<circle cx="56.75" cy="322.70" r="1.35" fill="#000000"/>
<circle cx="48.85" cy="325.50" r="1.35" fill="#000000"/>
<circle cx="52.70" cy="325.20" r="1.35" fill="#000000"/>
<circle cx="47.60" cy="329.90" r="1.35" fill="#000000"/>
<circle cx="59.00" cy="329.90" r="1.35" fill="#000000"/>
<circle cx="38.70" cy="331.60" r="1.35" fill="#000000"/>
<circle cx="40.20" cy="333.40" r="1.35" fill="#000000"/>
<circle cx="42.10" cy="333.40" r="1.35" fill="#000000"/>
<circle cx="44.00" cy="333.40" r="1.35" fill="#000000"/>
<circle cx="45.90" cy="333.40" r="1.35" fill="#000000"/>
<circle cx="47.80" cy="333.40" r="1.35" fill="#000000"/>
<circle cx="49.70" cy="333.40" r="1.35" fill="#000000"/>
<circle cx="51.70" cy="333.40" r="1.35" fill="#000000"/>
<circle cx="53.60" cy="333.40" r="1.35" fill="#000000"/>
<circle cx="55.50" cy="333.40" r="1.35" fill="#000000"/>
<circle cx="44.60" cy="340.80" r="1.35" fill="#000000"/>
<circle cx="56.75" cy="340.10" r="1.35" fill="#000000"/>
<circle cx="48.50" cy="344.00" r="1.35" fill="#000000"/>
<circle cx="52.70" cy="343.60" r="1.35" fill="#000000"/>
<circle cx="44.60" cy="359.90" r="1.35" fill="#000000"/>
<circle cx="48.85" cy="359.90" r="1.35" fill="#000000"/>
<circle cx="48.85" cy="366.20" r="1.35" fill="#000000"/>
<circle cx="52.70" cy="366.00" r="1.35" fill="#000000"/>
<line x1="88.20" y1="329.20" x2="88.20" y2="353.90" stroke="#3c3c3c" stroke-width="0.8"/>
<line x1="75.00" y1="341.20" x2="101.40" y2="341.20" stroke="#3c3c3c" stroke-width="1.0"/>
<line x1="81.50" y1="329.20" x2="94.90" y2="329.20" stroke="#3c3c3c" stroke-width="1.0"/>
<line x1="81.50" y1="353.90" x2="94.90" y2="353.90" stroke="#3c3c3c" stroke-width="1.0"/>
<circle cx="88.00" cy="314.60" r="1.35" fill="#b40d0d"/>
<circle cx="91.90" cy="314.60" r="1.35" fill="#b40d0d"/>
<circle cx="83.90" cy="329.20" r="1.35" fill="#b40d0d"/>
<circle cx="88.00" cy="329.20" r="1.35" fill="#b40d0d"/>
<circle cx="88.00" cy="334.00" r="1.35" fill="#b40d0d"/>
<circle cx="92.30" cy="334.00" r="1.35" fill="#b40d0d"/>
<circle cx="83.90" cy="337.20" r="1.35" fill="#b40d0d"/>
<circle cx="92.30" cy="337.20" r="1.35" fill="#b40d0d"/>
<circle cx="80.30" cy="339.30" r="1.35" fill="#b40d0d"/>
<circle cx="84.60" cy="339.30" r="1.35" fill="#b40d0d"/>
<circle cx="86.50" cy="338.60" r="1.35" fill="#b40d0d"/>
<circle cx="88.30" cy="339.30" r="1.35" fill="#b40d0d"/>
<circle cx="90.40" cy="339.30" r="1.35" fill="#b40d0d"/>
<circle cx="96.25" cy="339.80" r="1.35" fill="#b40d0d"/>
<circle cx="88.25" cy="342.70" r="1.35" fill="#b40d0d"/>
<circle cx="92.30" cy="342.20" r="1.35" fill="#b40d0d"/>
<circle cx="86.50" cy="350.20" r="1.35" fill="#b40d0d"/>
<circle cx="96.25" cy="351.40" r="1.35" fill="#b40d0d"/>
<circle cx="80.30" cy="353.10" r="1.35" fill="#b40d0d"/>
<circle cx="83.90" cy="353.90" r="1.35" fill="#b40d0d"/>
<circle cx="88.00" cy="353.90" r="1.35" fill="#b40d0d"/>
<circle cx="92.30" cy="353.60" r="1.35" fill="#b40d0d"/>
<circle cx="88.00" cy="361.90" r="1.35" fill="#b40d0d"/>
<circle cx="92.30" cy="361.90" r="1.35" fill="#b40d0d"/>
<line x1="127.60" y1="349.00" x2="127.60" y2="376.00" stroke="#888" stroke-width="0.8"/>
<line x1="114.40" y1="362.60" x2="140.80" y2="362.60" stroke="#888" stroke-width="1.0"/>
<line x1="120.90" y1="349.00" x2="134.30" y2="349.00" stroke="#888" stroke-width="1.0"/>
<line x1="120.90" y1="376.00" x2="134.30" y2="376.00" stroke="#888" stroke-width="1.0"/>
<line x1="127.60" y1="349.00" x2="127.60" y2="376.00" stroke="#3c3c3c" stroke-width="0.8"/>
<circle cx="119.60" cy="334.40" r="1.35" fill="#000000"/>
<circle cx="123.60" cy="335.20" r="1.35" fill="#000000"/>
<circle cx="127.60" cy="336.00" r="1.35" fill="#000000"/>
<circle cx="129.60" cy="334.00" r="1.35" fill="#000000"/>
<circle cx="131.60" cy="335.60" r="1.35" fill="#000000"/>
<circle cx="135.60" cy="334.40" r="1.35" fill="#000000"/>
<circle cx="127.60" cy="342.00" r="1.35" fill="#000000"/>
<circle cx="117.60" cy="347.20" r="1.35" fill="#000000"/>
<circle cx="119.60" cy="345.60" r="1.35" fill="#000000"/>
<circle cx="119.60" cy="349.60" r="1.35" fill="#000000"/>
<circle cx="121.60" cy="348.00" r="1.35" fill="#000000"/>
<circle cx="123.60" cy="346.00" r="1.35" fill="#000000"/>
<circle cx="123.60" cy="350.00" r="1.35" fill="#000000"/>
<circle cx="125.60" cy="344.80" r="1.35" fill="#000000"/>
<circle cx="125.60" cy="348.40" r="1.35" fill="#000000"/>
<circle cx="127.60" cy="346.80" r="1.35" fill="#000000"/>
<circle cx="127.60" cy="351.20" r="1.35" fill="#000000"/>
<circle cx="129.60" cy="345.20" r="1.35" fill="#000000"/>
<circle cx="129.60" cy="348.80" r="1.35" fill="#000000"/>
<circle cx="131.60" cy="346.40" r="1.35" fill="#000000"/>
<circle cx="131.60" cy="351.20" r="1.35" fill="#000000"/>
<circle cx="133.60" cy="347.60" r="1.35" fill="#000000"/>
<circle cx="135.60" cy="346.00" r="1.35" fill="#000000"/>
<circle cx="135.60" cy="349.20" r="1.35" fill="#000000"/>
<circle cx="127.60" cy="355.70" r="1.35" fill="#000000"/>
<circle cx="121.60" cy="359.80" r="1.35" fill="#000000"/>
<circle cx="133.60" cy="359.80" r="1.35" fill="#000000"/>
<circle cx="125.60" cy="361.00" r="1.35" fill="#000000"/>
<circle cx="129.60" cy="361.00" r="1.35" fill="#000000"/>
<circle cx="119.60" cy="370.60" r="1.35" fill="#000000"/>
<circle cx="123.60" cy="371.80" r="1.35" fill="#000000"/>
<circle cx="123.60" cy="373.40" r="1.35" fill="#000000"/>
<circle cx="127.60" cy="372.20" r="1.35" fill="#000000"/>
<circle cx="131.60" cy="371.40" r="1.35" fill="#000000"/>
<circle cx="135.60" cy="369.80" r="1.35" fill="#000000"/>
<circle cx="117.20" cy="376.60" r="1.35" fill="#000000"/>
<circle cx="119.60" cy="378.20" r="1.35" fill="#000000"/>
<circle cx="121.60" cy="379.00" r="1.35" fill="#000000"/>
<circle cx="123.60" cy="377.80" r="1.35" fill="#000000"/>
<circle cx="125.60" cy="379.00" r="1.35" fill="#000000"/>
<circle cx="127.60" cy="376.60" r="1.35" fill="#000000"/>
<circle cx="129.60" cy="378.60" r="1.35" fill="#000000"/>
<circle cx="131.60" cy="375.80" r="1.35" fill="#000000"/>
<circle cx="133.60" cy="378.20" r="1.35" fill="#000000"/>
<circle cx="136.00" cy="379.00" r="1.35" fill="#000000"/>
<circle cx="125.60" cy="382.60" r="1.35" fill="#000000"/>
<circle cx="129.60" cy="382.60" r="1.35" fill="#000000"/>
<circle cx="127.60" cy="381.40" r="1.35" fill="#000000"/>
<circle cx="119.60" cy="384.20" r="1.35" fill="#000000"/>
<circle cx="123.60" cy="385.40" r="1.35" fill="#000000"/>
<circle cx="127.60" cy="385.80" r="1.35" fill="#000000"/>
<circle cx="131.60" cy="385.40" r="1.35" fill="#000000"/>
<circle cx="135.60" cy="384.60" r="1.35" fill="#000000"/>
<circle cx="127.26" cy="361.73" r="1.35" fill="#000000"/>
<circle cx="130.62" cy="362.13" r="1.35" fill="#000000"/>
<circle cx="124.25" cy="361.73" r="1.35" fill="#000000"/>
<circle cx="133.61" cy="362.18" r="1.35" fill="#000000"/>
<circle cx="121.15" cy="362.17" r="1.35" fill="#000000"/>
<circle cx="129.26" cy="363.80" r="1.35" fill="#000000"/>
<circle cx="126.07" cy="364.01" r="1.35" fill="#000000"/>
<circle cx="132.19" cy="364.40" r="1.35" fill="#000000"/>
<circle cx="122.67" cy="363.71" r="1.35" fill="#000000"/>
<circle cx="135.66" cy="363.98" r="1.35" fill="#000000"/>
<circle cx="119.64" cy="363.93" r="1.35" fill="#000000"/>
<circle cx="138.36" cy="364.37" r="1.35" fill="#000000"/>
<circle cx="116.55" cy="363.85" r="1.35" fill="#000000"/>
<circle cx="127.66" cy="366.13" r="1.35" fill="#000000"/>
<circle cx="131.02" cy="366.34" r="1.35" fill="#000000"/>
<circle cx="124.40" cy="365.89" r="1.35" fill="#000000"/>
<circle cx="134.04" cy="366.44" r="1.35" fill="#000000"/>
<circle cx="121.07" cy="366.26" r="1.35" fill="#000000"/>
<circle cx="137.16" cy="366.21" r="1.35" fill="#000000"/>
<circle cx="118.10" cy="366.31" r="1.35" fill="#000000"/>
<circle cx="129.31" cy="367.94" r="1.35" fill="#000000"/>
<circle cx="126.15" cy="367.95" r="1.35" fill="#000000"/>
<circle cx="131.93" cy="368.04" r="1.35" fill="#000000"/>
<circle cx="122.83" cy="368.08" r="1.35" fill="#000000"/>
<circle cx="135.45" cy="368.39" r="1.35" fill="#000000"/>
<circle cx="120.17" cy="368.48" r="1.35" fill="#000000"/>
<circle cx="138.80" cy="368.35" r="1.35" fill="#000000"/>
<circle cx="116.61" cy="367.92" r="1.35" fill="#000000"/>
<circle cx="127.69" cy="370.23" r="1.35" fill="#000000"/>
<path d="M163.25 335.71L164.94 337.40L163.25 339.09L161.56 337.40Z" fill="#10108a"/>
<path d="M167.40 336.06L169.09 337.75L167.40 339.44L165.71 337.75Z" fill="#10108a"/>
<path d="M171.35 335.71L173.04 337.40L171.35 339.09L169.66 337.40Z" fill="#10108a"/>
<path d="M169.25 340.21L170.94 341.90L169.25 343.59L167.56 341.90Z" fill="#10108a"/>
<path d="M159.10 341.71L160.79 343.40L159.10 345.09L157.41 343.40Z" fill="#10108a"/>
<path d="M163.25 343.21L164.94 344.90L163.25 346.59L161.56 344.90Z" fill="#10108a"/>
<path d="M167.40 343.41L169.09 345.10L167.40 346.79L165.71 345.10Z" fill="#10108a"/>
<path d="M171.35 343.41L173.04 345.10L171.35 346.79L169.66 345.10Z" fill="#10108a"/>
<path d="M175.25 341.71L176.94 343.40L175.25 345.09L173.56 343.40Z" fill="#10108a"/>
<path d="M159.10 347.71L160.79 349.40L159.10 351.09L157.41 349.40Z" fill="#10108a"/>
<path d="M163.25 348.06L164.94 349.75L163.25 351.44L161.56 349.75Z" fill="#10108a"/>
<path d="M165.10 346.56L166.79 348.25L165.10 349.94L163.41 348.25Z" fill="#10108a"/>
<path d="M167.40 348.41L169.09 350.10L167.40 351.79L165.71 350.10Z" fill="#10108a"/>
<path d="M171.35 347.71L173.04 349.40L171.35 351.09L169.66 349.40Z" fill="#10108a"/>
<path d="M175.25 347.71L176.94 349.40L175.25 351.09L173.56 349.40Z" fill="#10108a"/>
<path d="M167.22 349.92L168.90 351.61L167.22 353.30L165.53 351.61Z" fill="#10108a"/>
<path d="M171.02 350.40L172.70 352.09L171.02 353.78L169.33 352.09Z" fill="#10108a"/>
<path d="M163.40 350.25L165.09 351.93L163.40 353.62L161.72 351.93Z" fill="#10108a"/>
<path d="M175.24 350.03L176.92 351.72L175.24 353.41L173.55 351.72Z" fill="#10108a"/>
<path d="M159.56 350.17L161.25 351.85L159.56 353.54L157.87 351.85Z" fill="#10108a"/>
<path d="M169.47 352.28L171.16 353.96L169.47 355.65L167.78 353.96Z" fill="#10108a"/>
<path d="M165.56 352.12L167.25 353.81L165.56 355.50L163.88 353.81Z" fill="#10108a"/>
<path d="M172.98 351.92L174.67 353.60L172.98 355.29L171.30 353.60Z" fill="#10108a"/>
<path d="M161.53 351.93L163.22 353.62L161.53 355.30L159.84 353.62Z" fill="#10108a"/>
<path d="M177.28 352.25L178.97 353.93L177.28 355.62L175.60 353.93Z" fill="#10108a"/>
<path d="M157.12 352.36L158.80 354.05L157.12 355.74L155.43 354.05Z" fill="#10108a"/>
<path d="M166.97 354.47L168.66 356.16L166.97 357.84L165.29 356.16Z" fill="#10108a"/>
<path d="M171.49 354.01L173.18 355.70L171.49 357.39L169.80 355.70Z" fill="#10108a"/>
<path d="M163.51 354.38L165.20 356.06L163.51 357.75L161.82 356.06Z" fill="#10108a"/>
<path d="M174.94 354.33L176.63 356.02L174.94 357.71L173.25 356.02Z" fill="#10108a"/>
<path d="M159.14 354.50L160.82 356.19L159.14 357.88L157.45 356.19Z" fill="#10108a"/>
<path d="M169.41 356.60L171.09 358.29L169.41 359.97L167.72 358.29Z" fill="#10108a"/>
<path d="M165.01 356.13L166.70 357.82L165.01 359.51L163.32 357.82Z" fill="#10108a"/>
<path d="M173.31 356.34L175.00 358.03L173.31 359.71L171.62 358.03Z" fill="#10108a"/>
<path d="M161.15 356.53L162.84 358.22L161.15 359.91L159.46 358.22Z" fill="#10108a"/>
<path d="M177.42 356.12L179.11 357.81L177.42 359.50L175.73 357.81Z" fill="#10108a"/>
<path d="M157.18 356.38L158.86 358.07L157.18 359.75L155.49 358.07Z" fill="#10108a"/>
<path d="M167.24 358.43L168.92 360.11L167.24 361.80L165.55 360.11Z" fill="#10108a"/>
<path d="M171.25 358.24L172.93 359.93L171.25 361.61L169.56 359.93Z" fill="#10108a"/>
<path d="M163.02 358.06L164.70 359.74L163.02 361.43L161.33 359.74Z" fill="#10108a"/>
<path d="M175.17 358.47L176.86 360.16L175.17 361.85L173.48 360.16Z" fill="#10108a"/>
<path d="M159.35 358.48L161.04 360.17L159.35 361.86L157.66 360.17Z" fill="#10108a"/>
<path d="M169.30 360.63L170.99 362.32L169.30 364.00L167.62 362.32Z" fill="#10108a"/>
<path d="M165.43 360.24L167.12 361.93L165.43 363.61L163.75 361.93Z" fill="#10108a"/>
<path d="M172.97 360.06L174.66 361.75L172.97 363.43L171.28 361.75Z" fill="#10108a"/>
<path d="M161.05 360.62L162.74 362.30L161.05 363.99L159.37 362.30Z" fill="#10108a"/>
<path d="M177.44 360.54L179.12 362.23L177.44 363.91L175.75 362.23Z" fill="#10108a"/>
<path d="M157.15 360.47L158.84 362.16L157.15 363.85L155.46 362.16Z" fill="#10108a"/>
<path d="M167.04 362.68L168.73 364.37L167.04 366.06L165.35 364.37Z" fill="#10108a"/>
<path d="M171.36 362.59L173.05 364.27L171.36 365.96L169.67 364.27Z" fill="#10108a"/>
<path d="M163.43 362.36L165.11 364.04L163.43 365.73L161.74 364.04Z" fill="#10108a"/>
<path d="M175.44 362.74L177.13 364.42L175.44 366.11L173.76 364.42Z" fill="#10108a"/>
<path d="M159.22 362.37L160.91 364.06L159.22 365.74L157.53 364.06Z" fill="#10108a"/>
<path d="M169.44 364.59L171.13 366.28L169.44 367.96L167.75 366.28Z" fill="#10108a"/>
<path d="M165.26 364.43L166.95 366.12L165.26 367.80L163.57 366.12Z" fill="#10108a"/>
<path d="M173.55 364.31L175.24 365.99L173.55 367.68L171.86 365.99Z" fill="#10108a"/>
<path d="M161.17 364.59L162.86 366.28L161.17 367.97L159.49 366.28Z" fill="#10108a"/>
<path d="M177.02 364.74L178.71 366.43L177.02 368.12L175.33 366.43Z" fill="#10108a"/>
<path d="M157.30 364.76L158.99 366.45L157.30 368.13L155.62 366.45Z" fill="#10108a"/>
<path d="M167.22 366.78L168.90 368.47L167.22 370.16L165.53 368.47Z" fill="#10108a"/>
<path d="M171.43 366.67L173.11 368.36L171.43 370.05L169.74 368.36Z" fill="#10108a"/>
<path d="M163.15 366.28L164.84 367.96L163.15 369.65L161.46 367.96Z" fill="#10108a"/>
<path d="M174.87 366.29L176.56 367.98L174.87 369.66L173.18 367.98Z" fill="#10108a"/>
<path d="M159.52 366.21L161.20 367.90L159.52 369.58L157.83 367.90Z" fill="#10108a"/>
<path d="M169.09 368.61L170.78 370.30L169.09 371.98L167.40 370.30Z" fill="#10108a"/>
<path d="M165.08 368.44L166.77 370.13L165.08 371.82L163.40 370.13Z" fill="#10108a"/>
<path d="M173.03 368.69L174.72 370.37L173.03 372.06L171.35 370.37Z" fill="#10108a"/>
<path d="M161.11 368.91L162.80 370.60L161.11 372.29L159.42 370.60Z" fill="#10108a"/>
<path d="M177.24 368.71L178.93 370.40L177.24 372.09L175.56 370.40Z" fill="#10108a"/>
<path d="M157.46 368.56L159.15 370.25L157.46 371.94L155.77 370.25Z" fill="#10108a"/>
<path d="M159.10 372.21L160.79 373.90L159.10 375.59L157.41 373.90Z" fill="#10108a"/>
<path d="M163.25 374.41L164.94 376.10L163.25 377.79L161.56 376.10Z" fill="#10108a"/>
<path d="M167.40 375.21L169.09 376.90L167.40 378.59L165.71 376.90Z" fill="#10108a"/>
<path d="M171.35 373.31L173.04 375.00L171.35 376.69L169.66 375.00Z" fill="#10108a"/>
<path d="M167.40 380.06L169.09 381.75L167.40 383.44L165.71 381.75Z" fill="#10108a"/>
<path d="M171.35 379.71L173.04 381.40L171.35 383.09L169.66 381.40Z" fill="#10108a"/>
<line x1="153.90" y1="360.25" x2="180.70" y2="360.25" stroke="#444" stroke-width="1.0"/>
<text transform="translate(217.80 297.40) scale(1.0 1)" font-size="10.0" font-weight="bold" fill="#000">F</text>
<text x="223.70" y="346.40" font-size="6.7" font-weight="bold" text-anchor="middle" fill="#1a1a1a" stroke="#1a1a1a" stroke-width="0.2" transform="rotate(-90 223.70 346.40)">Expression of SLC26A9</text>
<line x1="236.90" y1="295.40" x2="236.90" y2="400.60" stroke="#a8a8a8" stroke-width="1.8"/>
<line x1="235.10" y1="295.40" x2="236.90" y2="295.40" stroke="#666" stroke-width="0.9"/>
<text x="235.90" y="297.80" font-size="6.9" font-weight="bold" text-anchor="end" fill="#1a1a1a" stroke="#1a1a1a" stroke-width="0.2">15</text>
<line x1="235.10" y1="330.40" x2="236.90" y2="330.40" stroke="#666" stroke-width="0.9"/>
<text x="235.90" y="332.80" font-size="6.9" font-weight="bold" text-anchor="end" fill="#1a1a1a" stroke="#1a1a1a" stroke-width="0.2">10</text>
<line x1="235.10" y1="365.60" x2="236.90" y2="365.60" stroke="#666" stroke-width="0.9"/>
<text x="235.90" y="368.00" font-size="6.9" font-weight="bold" text-anchor="end" fill="#1a1a1a" stroke="#1a1a1a" stroke-width="0.2">5</text>
<line x1="235.10" y1="400.60" x2="236.90" y2="400.60" stroke="#666" stroke-width="0.9"/>
<text x="235.90" y="403.00" font-size="6.9" font-weight="bold" text-anchor="end" fill="#1a1a1a" stroke="#1a1a1a" stroke-width="0.2">0</text>
<line x1="236.00" y1="400.60" x2="393.20" y2="400.60" stroke="#8a8a8a" stroke-width="1.5"/>
<line x1="256.40" y1="400.60" x2="256.40" y2="402.20" stroke="#6e6e6e" stroke-width="0.6"/>
<text x="256.40" y="409.10" font-size="6.8" font-weight="bold" text-anchor="middle" fill="#1a1a1a" stroke="#1a1a1a" stroke-width="0.2">GC</text>
<line x1="296.20" y1="400.60" x2="296.20" y2="402.20" stroke="#6e6e6e" stroke-width="0.6"/>
<text x="296.20" y="409.10" font-size="6.8" font-weight="bold" text-anchor="middle" fill="#1a1a1a" stroke="#1a1a1a" stroke-width="0.2">EBV-GC</text>
<line x1="335.70" y1="400.60" x2="335.70" y2="402.20" stroke="#6e6e6e" stroke-width="0.6"/>
<text x="335.70" y="409.10" font-size="6.8" font-weight="bold" text-anchor="middle" fill="#1a1a1a" stroke="#1a1a1a" stroke-width="0.2">NPC</text>
<line x1="375.30" y1="400.60" x2="375.30" y2="402.20" stroke="#6e6e6e" stroke-width="0.6"/>
<text x="375.30" y="409.10" font-size="6.8" font-weight="bold" text-anchor="middle" fill="#1a1a1a" stroke="#1a1a1a" stroke-width="0.2">EBV-NPC</text>
<line x1="257.20" y1="304.50" x2="296.60" y2="304.50" stroke="#3a3a3a" stroke-width="1.0"/>
<line x1="257.20" y1="302.90" x2="257.20" y2="306.10" stroke="#222" stroke-width="1.2"/>
<line x1="296.60" y1="302.90" x2="296.60" y2="306.10" stroke="#222" stroke-width="1.2"/>
<text x="276.90" y="303.80" font-size="5.5" font-weight="normal" text-anchor="middle" fill="#222" stroke="#222" stroke-width="0.12">p=0.0016</text>
<line x1="336.20" y1="315.90" x2="375.30" y2="315.90" stroke="#3a3a3a" stroke-width="1.0"/>
<line x1="336.20" y1="314.30" x2="336.20" y2="317.50" stroke="#222" stroke-width="1.2"/>
<line x1="375.30" y1="314.30" x2="375.30" y2="317.50" stroke="#222" stroke-width="1.2"/>
<text x="355.75" y="315.20" font-size="5.5" font-weight="normal" text-anchor="middle" fill="#222" stroke="#222" stroke-width="0.12">p=0.0001</text>
<line x1="256.45" y1="355.70" x2="256.45" y2="373.20" stroke="#3c3c3c" stroke-width="0.8"/>
<line x1="243.15" y1="364.40" x2="269.75" y2="364.40" stroke="#3c3c3c" stroke-width="1.0"/>
<line x1="249.85" y1="355.70" x2="263.05" y2="355.70" stroke="#3c3c3c" stroke-width="1.0"/>
<line x1="249.85" y1="373.20" x2="263.05" y2="373.20" stroke="#3c3c3c" stroke-width="1.0"/>
<circle cx="256.40" cy="334.40" r="1.35" fill="#000000"/>
<circle cx="253.00" cy="347.60" r="1.35" fill="#000000"/>
<circle cx="257.00" cy="348.40" r="1.35" fill="#000000"/>
<circle cx="256.45" cy="358.00" r="1.35" fill="#000000"/>
<circle cx="254.40" cy="360.30" r="1.35" fill="#000000"/>
<circle cx="248.50" cy="361.60" r="1.35" fill="#000000"/>
<circle cx="264.90" cy="361.40" r="1.35" fill="#000000"/>
<circle cx="252.25" cy="363.60" r="1.35" fill="#000000"/>
<circle cx="256.45" cy="363.60" r="1.35" fill="#000000"/>
<circle cx="260.60" cy="363.10" r="1.35" fill="#000000"/>
<circle cx="266.70" cy="364.00" r="1.35" fill="#000000"/>
<circle cx="250.50" cy="364.90" r="1.35" fill="#000000"/>
<circle cx="262.75" cy="364.90" r="1.35" fill="#000000"/>
<circle cx="248.50" cy="367.50" r="1.35" fill="#000000"/>
<circle cx="252.70" cy="368.40" r="1.35" fill="#000000"/>
<circle cx="254.90" cy="368.80" r="1.35" fill="#000000"/>
<circle cx="257.50" cy="368.40" r="1.35" fill="#000000"/>
<circle cx="259.70" cy="368.40" r="1.35" fill="#000000"/>
<circle cx="264.90" cy="368.40" r="1.35" fill="#000000"/>
<circle cx="248.50" cy="370.60" r="1.35" fill="#000000"/>
<circle cx="264.90" cy="369.70" r="1.35" fill="#000000"/>
<circle cx="252.70" cy="372.75" r="1.35" fill="#000000"/>
<circle cx="256.45" cy="372.75" r="1.35" fill="#000000"/>
<circle cx="260.60" cy="372.30" r="1.35" fill="#000000"/>
<circle cx="256.45" cy="380.20" r="1.35" fill="#000000"/>
<line x1="296.20" y1="332.70" x2="296.20" y2="370.00" stroke="#3c3c3c" stroke-width="0.8"/>
<line x1="283.00" y1="351.50" x2="309.40" y2="351.50" stroke="#3c3c3c" stroke-width="1.0"/>
<line x1="289.20" y1="332.70" x2="303.20" y2="332.70" stroke="#3c3c3c" stroke-width="1.0"/>
<line x1="289.20" y1="370.00" x2="303.20" y2="370.00" stroke="#3c3c3c" stroke-width="1.0"/>
<path d="M296.25 308.56L297.94 310.25L296.25 311.94L294.56 310.25Z" fill="#b40d0d"/>
<path d="M300.45 308.31L302.14 310.00L300.45 311.69L298.76 310.00Z" fill="#b40d0d"/>
<path d="M296.25 313.06L297.94 314.75L296.25 316.44L294.56 314.75Z" fill="#b40d0d"/>
<path d="M296.20 329.21L297.89 330.90L296.20 332.59L294.51 330.90Z" fill="#b40d0d"/>
<path d="M291.80 336.81L293.49 338.50L291.80 340.19L290.11 338.50Z" fill="#b40d0d"/>
<path d="M296.20 337.41L297.89 339.10L296.20 340.79L294.51 339.10Z" fill="#b40d0d"/>
<path d="M296.20 341.91L297.89 343.60L296.20 345.29L294.51 343.60Z" fill="#b40d0d"/>
<path d="M291.80 344.01L293.49 345.70L291.80 347.39L290.11 345.70Z" fill="#b40d0d"/>
<path d="M296.20 347.11L297.89 348.80L296.20 350.49L294.51 348.80Z" fill="#b40d0d"/>
<path d="M300.20 353.51L301.89 355.20L300.20 356.89L298.51 355.20Z" fill="#b40d0d"/>
<path d="M296.20 354.91L297.89 356.60L296.20 358.29L294.51 356.60Z" fill="#b40d0d"/>
<path d="M294.10 359.91L295.79 361.60L294.10 363.29L292.41 361.60Z" fill="#b40d0d"/>
<path d="M288.20 361.01L289.89 362.70L288.20 364.39L286.51 362.70Z" fill="#b40d0d"/>
<path d="M291.80 362.41L293.49 364.10L291.80 365.79L290.11 364.10Z" fill="#b40d0d"/>
<path d="M294.10 362.81L295.79 364.50L294.10 366.19L292.41 364.50Z" fill="#b40d0d"/>
<path d="M296.20 363.31L297.89 365.00L296.20 366.69L294.51 365.00Z" fill="#b40d0d"/>
<path d="M300.20 361.31L301.89 363.00L300.20 364.69L298.51 363.00Z" fill="#b40d0d"/>
<path d="M304.40 361.01L306.09 362.70L304.40 364.39L302.71 362.70Z" fill="#b40d0d"/>
<path d="M288.20 364.21L289.89 365.90L288.20 367.59L286.51 365.90Z" fill="#b40d0d"/>
<path d="M291.80 365.11L293.49 366.80L291.80 368.49L290.11 366.80Z" fill="#b40d0d"/>
<path d="M298.20 364.21L299.89 365.90L298.20 367.59L296.51 365.90Z" fill="#b40d0d"/>
<path d="M300.20 365.31L301.89 367.00L300.20 368.69L298.51 367.00Z" fill="#b40d0d"/>
<path d="M304.40 364.71L306.09 366.40L304.40 368.09L302.71 366.40Z" fill="#b40d0d"/>
<path d="M296.20 367.41L297.89 369.10L296.20 370.79L294.51 369.10Z" fill="#b40d0d"/>
<line x1="335.60" y1="347.60" x2="335.60" y2="393.20" stroke="#999" stroke-width="0.8"/>
<line x1="322.40" y1="370.40" x2="348.80" y2="370.40" stroke="#999" stroke-width="1.0"/>
<line x1="329.00" y1="347.60" x2="342.20" y2="347.60" stroke="#999" stroke-width="1.0"/>
<line x1="329.00" y1="393.20" x2="342.20" y2="393.20" stroke="#999" stroke-width="1.0"/>
<line x1="335.60" y1="347.60" x2="335.60" y2="393.20" stroke="#3c3c3c" stroke-width="0.8"/>
<circle cx="327.60" cy="332.40" r="1.35" fill="#000000"/>
<circle cx="331.60" cy="333.60" r="1.35" fill="#000000"/>
<circle cx="335.60" cy="334.00" r="1.35" fill="#000000"/>
<circle cx="338.00" cy="331.80" r="1.35" fill="#000000"/>
<circle cx="339.60" cy="334.00" r="1.35" fill="#000000"/>
<circle cx="343.60" cy="333.60" r="1.35" fill="#000000"/>
<circle cx="333.60" cy="336.80" r="1.35" fill="#000000"/>
<circle cx="343.60" cy="336.80" r="1.35" fill="#000000"/>
<circle cx="327.60" cy="339.20" r="1.35" fill="#000000"/>
<circle cx="331.60" cy="340.80" r="1.35" fill="#000000"/>
<circle cx="335.60" cy="340.80" r="1.35" fill="#000000"/>
<circle cx="339.60" cy="339.20" r="1.35" fill="#000000"/>
<circle cx="327.60" cy="343.60" r="1.35" fill="#000000"/>
<circle cx="331.60" cy="344.80" r="1.35" fill="#000000"/>
<circle cx="335.60" cy="345.60" r="1.35" fill="#000000"/>
<circle cx="339.60" cy="345.20" r="1.35" fill="#000000"/>
<circle cx="343.60" cy="344.20" r="1.35" fill="#000000"/>
<circle cx="331.60" cy="351.20" r="1.35" fill="#000000"/>
<circle cx="335.60" cy="352.00" r="1.35" fill="#000000"/>
<circle cx="339.60" cy="350.40" r="1.35" fill="#000000"/>
<circle cx="327.60" cy="354.00" r="1.35" fill="#000000"/>
<circle cx="331.60" cy="355.20" r="1.35" fill="#000000"/>
<circle cx="335.60" cy="356.40" r="1.35" fill="#000000"/>
<circle cx="339.60" cy="356.00" r="1.35" fill="#000000"/>
<circle cx="343.60" cy="354.40" r="1.35" fill="#000000"/>
<circle cx="325.20" cy="357.60" r="1.35" fill="#000000"/>
<circle cx="327.60" cy="359.60" r="1.35" fill="#000000"/>
<circle cx="329.60" cy="357.60" r="1.35" fill="#000000"/>
<circle cx="331.60" cy="359.60" r="1.35" fill="#000000"/>
<circle cx="333.60" cy="357.60" r="1.35" fill="#000000"/>
<circle cx="335.60" cy="359.60" r="1.35" fill="#000000"/>
<circle cx="337.60" cy="357.60" r="1.35" fill="#000000"/>
<circle cx="339.60" cy="359.60" r="1.35" fill="#000000"/>
<circle cx="341.60" cy="357.60" r="1.35" fill="#000000"/>
<circle cx="343.60" cy="359.60" r="1.35" fill="#000000"/>
<circle cx="345.60" cy="357.60" r="1.35" fill="#000000"/>
<circle cx="331.60" cy="361.20" r="1.35" fill="#000000"/>
<circle cx="335.60" cy="362.00" r="1.35" fill="#000000"/>
<circle cx="339.60" cy="363.60" r="1.35" fill="#000000"/>
<circle cx="343.60" cy="362.80" r="1.35" fill="#000000"/>
<circle cx="331.60" cy="363.40" r="1.35" fill="#000000"/>
<circle cx="335.60" cy="365.60" r="1.35" fill="#000000"/>
<circle cx="327.60" cy="370.00" r="1.35" fill="#000000"/>
<circle cx="331.60" cy="372.00" r="1.35" fill="#000000"/>
<circle cx="335.60" cy="372.40" r="1.35" fill="#000000"/>
<circle cx="339.60" cy="371.80" r="1.35" fill="#000000"/>
<circle cx="327.60" cy="377.60" r="1.35" fill="#000000"/>
<circle cx="331.60" cy="378.80" r="1.35" fill="#000000"/>
<circle cx="335.60" cy="380.40" r="1.35" fill="#000000"/>
<circle cx="337.60" cy="377.20" r="1.35" fill="#000000"/>
<circle cx="339.60" cy="379.20" r="1.35" fill="#000000"/>
<circle cx="343.60" cy="377.60" r="1.35" fill="#000000"/>
<circle cx="327.60" cy="383.40" r="1.35" fill="#000000"/>
<circle cx="331.60" cy="384.40" r="1.35" fill="#000000"/>
<circle cx="331.60" cy="386.00" r="1.35" fill="#000000"/>
<circle cx="335.60" cy="385.20" r="1.35" fill="#000000"/>
<circle cx="339.60" cy="383.60" r="1.35" fill="#000000"/>
<circle cx="339.60" cy="386.80" r="1.35" fill="#000000"/>
<circle cx="343.60" cy="382.00" r="1.35" fill="#000000"/>
<circle cx="327.60" cy="390.80" r="1.35" fill="#000000"/>
<circle cx="331.60" cy="391.20" r="1.35" fill="#000000"/>
<circle cx="333.60" cy="390.00" r="1.35" fill="#000000"/>
<circle cx="335.60" cy="389.20" r="1.35" fill="#000000"/>
<circle cx="339.60" cy="390.80" r="1.35" fill="#000000"/>
<circle cx="343.60" cy="390.40" r="1.35" fill="#000000"/>
<circle cx="335.60" cy="393.80" r="1.35" fill="#000000"/>
<line x1="326.4" y1="400.9" x2="345.4" y2="400.9" stroke="#000" stroke-width="2.7" stroke-linecap="round"/>
<path d="M371.20 319.81L372.89 321.50L371.20 323.19L369.51 321.50Z" fill="#10108a"/>
<path d="M371.20 322.81L372.89 324.50L371.20 326.19L369.51 324.50Z" fill="#10108a"/>
<path d="M375.40 320.11L377.09 321.80L375.40 323.49L373.71 321.80Z" fill="#10108a"/>
<path d="M375.40 325.31L377.09 327.00L375.40 328.69L373.71 327.00Z" fill="#10108a"/>
<path d="M379.25 325.31L380.94 327.00L379.25 328.69L377.56 327.00Z" fill="#10108a"/>
<path d="M379.25 328.81L380.94 330.50L379.25 332.19L377.56 330.50Z" fill="#10108a"/>
<path d="M371.20 329.81L372.89 331.50L371.20 333.19L369.51 331.50Z" fill="#10108a"/>
<path d="M375.40 332.61L377.09 334.30L375.40 335.99L373.71 334.30Z" fill="#10108a"/>
<path d="M371.20 337.11L372.89 338.80L371.20 340.49L369.51 338.80Z" fill="#10108a"/>
<path d="M375.40 339.01L377.09 340.70L375.40 342.39L373.71 340.70Z" fill="#10108a"/>
<path d="M379.25 338.51L380.94 340.20L379.25 341.89L377.56 340.20Z" fill="#10108a"/>
<path d="M375.07 340.85L376.75 342.53L375.07 344.22L373.38 342.53Z" fill="#10108a"/>
<path d="M378.69 340.70L380.38 342.39L378.69 344.07L377.01 342.39Z" fill="#10108a"/>
<path d="M371.80 340.92L373.49 342.60L371.80 344.29L370.11 342.60Z" fill="#10108a"/>
<path d="M382.12 340.72L383.80 342.41L382.12 344.10L380.43 342.41Z" fill="#10108a"/>
<path d="M368.70 340.53L370.39 342.22L368.70 343.90L367.02 342.22Z" fill="#10108a"/>
<path d="M376.60 343.02L378.29 344.71L376.60 346.40L374.91 344.71Z" fill="#10108a"/>
<path d="M373.71 342.81L375.40 344.50L373.71 346.19L372.02 344.50Z" fill="#10108a"/>
<path d="M380.46 342.93L382.14 344.61L380.46 346.30L378.77 344.61Z" fill="#10108a"/>
<path d="M370.16 342.79L371.85 344.48L370.16 346.17L368.48 344.48Z" fill="#10108a"/>
<path d="M383.90 343.28L385.59 344.97L383.90 346.65L382.21 344.97Z" fill="#10108a"/>
<path d="M367.31 343.19L369.00 344.88L367.31 346.57L365.63 344.88Z" fill="#10108a"/>
<path d="M374.97 345.39L376.66 347.08L374.97 348.77L373.29 347.08Z" fill="#10108a"/>
<path d="M378.60 345.24L380.29 346.93L378.60 348.62L376.91 346.93Z" fill="#10108a"/>
<path d="M372.32 345.42L374.00 347.11L372.32 348.80L370.63 347.11Z" fill="#10108a"/>
<path d="M381.66 345.73L383.35 347.42L381.66 349.11L379.97 347.42Z" fill="#10108a"/>
<path d="M368.44 345.81L370.12 347.50L368.44 349.19L366.75 347.50Z" fill="#10108a"/>
<path d="M385.17 345.55L386.85 347.24L385.17 348.92L383.48 347.24Z" fill="#10108a"/>
<path d="M365.29 345.50L366.98 347.19L365.29 348.88L363.60 347.19Z" fill="#10108a"/>
<path d="M376.73 347.59L378.42 349.28L376.73 350.96L375.04 349.28Z" fill="#10108a"/>
<path d="M373.91 347.73L375.59 349.41L373.91 351.10L372.22 349.41Z" fill="#10108a"/>
<path d="M380.45 347.71L382.13 349.40L380.45 351.08L378.76 349.40Z" fill="#10108a"/>
<path d="M370.68 348.19L372.37 349.88L370.68 351.56L368.99 349.88Z" fill="#10108a"/>
<path d="M383.73 348.10L385.42 349.78L383.73 351.47L382.04 349.78Z" fill="#10108a"/>
<path d="M367.11 348.07L368.79 349.76L367.11 351.45L365.42 349.76Z" fill="#10108a"/>
<path d="M375.04 350.30L376.72 351.98L375.04 353.67L373.35 351.98Z" fill="#10108a"/>
<path d="M378.83 350.10L380.52 351.79L378.83 353.48L377.14 351.79Z" fill="#10108a"/>
<path d="M372.30 350.58L373.98 352.27L372.30 353.96L370.61 352.27Z" fill="#10108a"/>
<path d="M381.84 350.22L383.52 351.91L381.84 353.59L380.15 351.91Z" fill="#10108a"/>
<path d="M368.67 350.23L370.35 351.92L368.67 353.61L366.98 351.92Z" fill="#10108a"/>
<path d="M385.55 350.23L387.23 351.92L385.55 353.61L383.86 351.92Z" fill="#10108a"/>
<path d="M365.07 350.03L366.76 351.72L365.07 353.40L363.38 351.72Z" fill="#10108a"/>
<path d="M377.10 353.06L378.79 354.74L377.10 356.43L375.42 354.74Z" fill="#10108a"/>
<path d="M373.65 352.71L375.33 354.39L373.65 356.08L371.96 354.39Z" fill="#10108a"/>
<path d="M380.29 352.89L381.97 354.57L380.29 356.26L378.60 354.57Z" fill="#10108a"/>
<path d="M370.16 352.79L371.84 354.48L370.16 356.16L368.47 354.48Z" fill="#10108a"/>
<path d="M383.59 352.80L385.28 354.49L383.59 356.17L381.90 354.49Z" fill="#10108a"/>
<path d="M366.83 352.48L368.51 354.17L366.83 355.86L365.14 354.17Z" fill="#10108a"/>
<path d="M375.19 355.41L376.88 357.10L375.19 358.79L373.51 357.10Z" fill="#10108a"/>
<path d="M378.49 355.18L380.18 356.87L378.49 358.56L376.81 356.87Z" fill="#10108a"/>
<path d="M371.86 354.83L373.55 356.52L371.86 358.21L370.18 356.52Z" fill="#10108a"/>
<path d="M381.60 355.33L383.28 357.02L381.60 358.71L379.91 357.02Z" fill="#10108a"/>
<path d="M368.89 355.02L370.58 356.71L368.89 358.40L367.21 356.71Z" fill="#10108a"/>
<path d="M385.33 355.24L387.02 356.92L385.33 358.61L383.64 356.92Z" fill="#10108a"/>
<path d="M365.68 355.43L367.37 357.12L365.68 358.81L363.99 357.12Z" fill="#10108a"/>
<path d="M376.88 357.85L378.57 359.54L376.88 361.23L375.20 359.54Z" fill="#10108a"/>
<path d="M373.97 357.58L375.66 359.26L373.97 360.95L372.29 359.26Z" fill="#10108a"/>
<path d="M380.52 357.51L382.21 359.19L380.52 360.88L378.83 359.19Z" fill="#10108a"/>
<path d="M370.26 357.34L371.95 359.02L370.26 360.71L368.58 359.02Z" fill="#10108a"/>
<path d="M383.81 357.28L385.50 358.96L383.81 360.65L382.13 358.96Z" fill="#10108a"/>
<path d="M366.75 357.73L368.44 359.41L366.75 361.10L365.06 359.41Z" fill="#10108a"/>
<path d="M375.49 359.90L377.18 361.59L375.49 363.28L373.80 361.59Z" fill="#10108a"/>
<path d="M378.84 359.60L380.52 361.29L378.84 362.97L377.15 361.29Z" fill="#10108a"/>
<path d="M371.83 359.77L373.52 361.45L371.83 363.14L370.14 361.45Z" fill="#10108a"/>
<path d="M381.84 359.68L383.53 361.37L381.84 363.06L380.16 361.37Z" fill="#10108a"/>
<path d="M368.40 359.80L370.09 361.49L368.40 363.17L366.71 361.49Z" fill="#10108a"/>
<path d="M385.48 360.25L387.17 361.94L385.48 363.63L383.79 361.94Z" fill="#10108a"/>
<path d="M365.57 359.90L367.26 361.59L365.57 363.27L363.88 361.59Z" fill="#10108a"/>
<path d="M376.78 362.63L378.46 364.32L376.78 366.01L375.09 364.32Z" fill="#10108a"/>
<path d="M373.67 362.47L375.36 364.16L373.67 365.85L371.98 364.16Z" fill="#10108a"/>
<path d="M379.92 362.11L381.61 363.80L379.92 365.49L378.23 363.80Z" fill="#10108a"/>
<path d="M370.59 362.52L372.27 364.21L370.59 365.89L368.90 364.21Z" fill="#10108a"/>
<path d="M383.82 362.38L385.50 364.07L383.82 365.76L382.13 364.07Z" fill="#10108a"/>
<path d="M367.00 362.37L368.69 364.06L367.00 365.74L365.31 364.06Z" fill="#10108a"/>
<path d="M375.54 364.58L377.23 366.27L375.54 367.95L373.86 366.27Z" fill="#10108a"/>
<path d="M378.62 364.56L380.31 366.24L378.62 367.93L376.94 366.24Z" fill="#10108a"/>
<path d="M372.19 364.37L373.88 366.06L372.19 367.74L370.50 366.06Z" fill="#10108a"/>
<path d="M382.03 365.03L383.72 366.72L382.03 368.41L380.34 366.72Z" fill="#10108a"/>
<path d="M368.37 364.78L370.05 366.47L368.37 368.15L366.68 366.47Z" fill="#10108a"/>
<path d="M377.05 367.36L378.74 369.05L377.05 370.73L375.36 369.05Z" fill="#10108a"/>
<path d="M373.71 366.94L375.40 368.63L373.71 370.32L372.02 368.63Z" fill="#10108a"/>
<path d="M380.18 367.43L381.87 369.12L380.18 370.81L378.50 369.12Z" fill="#10108a"/>
<path d="M370.63 366.86L372.32 368.54L370.63 370.23L368.95 368.54Z" fill="#10108a"/>
<path d="M366.90 369.51L368.59 371.20L366.90 372.89L365.21 371.20Z" fill="#10108a"/>
<path d="M371.20 370.31L372.89 372.00L371.20 373.69L369.51 372.00Z" fill="#10108a"/>
<path d="M375.40 371.21L377.09 372.90L375.40 374.59L373.71 372.90Z" fill="#10108a"/>
<path d="M379.25 370.31L380.94 372.00L379.25 373.69L377.56 372.00Z" fill="#10108a"/>
<path d="M383.50 368.71L385.19 370.40L383.50 372.09L381.81 370.40Z" fill="#10108a"/>
<path d="M366.90 374.61L368.59 376.30L366.90 377.99L365.21 376.30Z" fill="#10108a"/>
<path d="M371.20 375.91L372.89 377.60L371.20 379.29L369.51 377.60Z" fill="#10108a"/>
<path d="M375.40 377.21L377.09 378.90L375.40 380.59L373.71 378.90Z" fill="#10108a"/>
<path d="M379.25 377.21L380.94 378.90L379.25 380.59L377.56 378.90Z" fill="#10108a"/>
<path d="M383.50 375.01L385.19 376.70L383.50 378.39L381.81 376.70Z" fill="#10108a"/>
<line x1="362.10" y1="355.00" x2="388.50" y2="355.00" stroke="#555" stroke-width="1.0"/>
<text transform="translate(6.30 430.70) scale(1.0 1)" font-size="10.0" font-weight="bold" fill="#000">G</text>
<text x="14.50" y="479.35" font-size="6.7" font-weight="bold" text-anchor="middle" fill="#1a1a1a" stroke="#1a1a1a" stroke-width="0.2" transform="rotate(-90 14.50 479.35)">Expression of SGPP2</text>
<line x1="27.90" y1="428.10" x2="27.90" y2="534.30" stroke="#a8a8a8" stroke-width="1.8"/>
<line x1="26.10" y1="428.10" x2="27.90" y2="428.10" stroke="#666" stroke-width="0.9"/>
<text x="26.90" y="430.50" font-size="6.9" font-weight="bold" text-anchor="end" fill="#1a1a1a" stroke="#1a1a1a" stroke-width="0.2">15</text>
<line x1="26.10" y1="463.60" x2="27.90" y2="463.60" stroke="#666" stroke-width="0.9"/>
<text x="26.90" y="466.00" font-size="6.9" font-weight="bold" text-anchor="end" fill="#1a1a1a" stroke="#1a1a1a" stroke-width="0.2">10</text>
<line x1="26.10" y1="498.60" x2="27.90" y2="498.60" stroke="#666" stroke-width="0.9"/>
<text x="26.90" y="501.00" font-size="6.9" font-weight="bold" text-anchor="end" fill="#1a1a1a" stroke="#1a1a1a" stroke-width="0.2">5</text>
<line x1="26.10" y1="534.30" x2="27.90" y2="534.30" stroke="#666" stroke-width="0.9"/>
<text x="26.90" y="536.70" font-size="6.9" font-weight="bold" text-anchor="end" fill="#1a1a1a" stroke="#1a1a1a" stroke-width="0.2">0</text>
<line x1="27.00" y1="534.30" x2="186.20" y2="534.30" stroke="#8a8a8a" stroke-width="1.5"/>
<line x1="47.60" y1="534.30" x2="47.60" y2="535.90" stroke="#6e6e6e" stroke-width="0.6"/>
<text x="47.60" y="542.80" font-size="6.8" font-weight="bold" text-anchor="middle" fill="#1a1a1a" stroke="#1a1a1a" stroke-width="0.2">GC</text>
<line x1="87.00" y1="534.30" x2="87.00" y2="535.90" stroke="#6e6e6e" stroke-width="0.6"/>
<text x="87.00" y="542.80" font-size="6.8" font-weight="bold" text-anchor="middle" fill="#1a1a1a" stroke="#1a1a1a" stroke-width="0.2">EBV-GC</text>
<line x1="126.80" y1="534.30" x2="126.80" y2="535.90" stroke="#6e6e6e" stroke-width="0.6"/>
<text x="126.80" y="542.80" font-size="6.8" font-weight="bold" text-anchor="middle" fill="#1a1a1a" stroke="#1a1a1a" stroke-width="0.2">NPC</text>
<line x1="166.40" y1="534.30" x2="166.40" y2="535.90" stroke="#6e6e6e" stroke-width="0.6"/>
<text x="166.40" y="542.80" font-size="6.8" font-weight="bold" text-anchor="middle" fill="#1a1a1a" stroke="#1a1a1a" stroke-width="0.2">EBV-NPC</text>
<line x1="47.60" y1="439.00" x2="87.00" y2="439.00" stroke="#3a3a3a" stroke-width="1.0"/>
<line x1="47.60" y1="437.40" x2="47.60" y2="440.60" stroke="#222" stroke-width="1.2"/>
<line x1="87.00" y1="437.40" x2="87.00" y2="440.60" stroke="#222" stroke-width="1.2"/>
<text x="67.30" y="438.30" font-size="5.5" font-weight="normal" text-anchor="middle" fill="#222" stroke="#222" stroke-width="0.12">NS</text>
<line x1="126.80" y1="437.00" x2="166.50" y2="437.00" stroke="#3a3a3a" stroke-width="1.0"/>
<line x1="126.80" y1="435.40" x2="126.80" y2="438.60" stroke="#222" stroke-width="1.2"/>
<line x1="166.50" y1="435.40" x2="166.50" y2="438.60" stroke="#222" stroke-width="1.2"/>
<text x="146.65" y="436.30" font-size="5.5" font-weight="normal" text-anchor="middle" fill="#222" stroke="#222" stroke-width="0.12">p&lt;0.0001</text>
<line x1="47.60" y1="452.40" x2="47.60" y2="485.50" stroke="#3c3c3c" stroke-width="0.8"/>
<line x1="34.40" y1="469.00" x2="60.80" y2="469.00" stroke="#3c3c3c" stroke-width="1.0"/>
<line x1="41.10" y1="452.40" x2="54.10" y2="452.40" stroke="#3c3c3c" stroke-width="1.0"/>
<line x1="41.10" y1="485.50" x2="54.10" y2="485.50" stroke="#3c3c3c" stroke-width="1.0"/>
<circle cx="47.60" cy="444.40" r="1.35" fill="#000000"/>
<circle cx="43.60" cy="452.00" r="1.35" fill="#000000"/>
<circle cx="47.60" cy="453.20" r="1.35" fill="#000000"/>
<circle cx="51.60" cy="452.80" r="1.35" fill="#000000"/>
<circle cx="39.60" cy="454.60" r="1.35" fill="#000000"/>
<circle cx="45.60" cy="454.00" r="1.35" fill="#000000"/>
<circle cx="55.60" cy="454.60" r="1.35" fill="#000000"/>
<circle cx="43.60" cy="456.80" r="1.35" fill="#000000"/>
<circle cx="51.60" cy="455.60" r="1.35" fill="#000000"/>
<circle cx="47.60" cy="458.20" r="1.35" fill="#000000"/>
<circle cx="43.60" cy="463.00" r="1.35" fill="#000000"/>
<circle cx="51.60" cy="463.80" r="1.35" fill="#000000"/>
<circle cx="45.60" cy="466.00" r="1.35" fill="#000000"/>
<circle cx="47.60" cy="466.00" r="1.35" fill="#000000"/>
<circle cx="49.60" cy="466.00" r="1.35" fill="#000000"/>
<circle cx="55.60" cy="466.40" r="1.35" fill="#000000"/>
<circle cx="39.60" cy="467.80" r="1.35" fill="#000000"/>
<circle cx="43.60" cy="469.40" r="1.35" fill="#000000"/>
<circle cx="47.60" cy="470.00" r="1.35" fill="#000000"/>
<circle cx="51.60" cy="469.20" r="1.35" fill="#000000"/>
<circle cx="47.60" cy="475.20" r="1.35" fill="#000000"/>
<circle cx="51.60" cy="475.00" r="1.35" fill="#000000"/>
<circle cx="43.60" cy="492.00" r="1.35" fill="#000000"/>
<circle cx="47.60" cy="493.70" r="1.35" fill="#000000"/>
<circle cx="51.60" cy="491.30" r="1.35" fill="#000000"/>
<circle cx="43.40" cy="498.60" r="1.35" fill="#000000"/>
<circle cx="47.60" cy="501.60" r="1.35" fill="#000000"/>
<circle cx="51.60" cy="501.60" r="1.35" fill="#000000"/>
<line x1="87.00" y1="453.00" x2="87.00" y2="475.20" stroke="#3c3c3c" stroke-width="0.8"/>
<line x1="73.80" y1="464.20" x2="100.20" y2="464.20" stroke="#3c3c3c" stroke-width="1.0"/>
<line x1="80.50" y1="453.00" x2="93.50" y2="453.00" stroke="#3c3c3c" stroke-width="1.0"/>
<line x1="80.50" y1="475.20" x2="93.50" y2="475.20" stroke="#3c3c3c" stroke-width="1.0"/>
<circle cx="87.00" cy="446.80" r="1.35" fill="#b40d0d"/>
<circle cx="87.00" cy="452.00" r="1.35" fill="#b40d0d"/>
<circle cx="91.00" cy="451.00" r="1.35" fill="#b40d0d"/>
<circle cx="85.00" cy="454.80" r="1.35" fill="#b40d0d"/>
<circle cx="89.20" cy="454.80" r="1.35" fill="#b40d0d"/>
<circle cx="79.00" cy="456.00" r="1.35" fill="#b40d0d"/>
<circle cx="95.20" cy="455.70" r="1.35" fill="#b40d0d"/>
<circle cx="83.00" cy="458.00" r="1.35" fill="#b40d0d"/>
<circle cx="87.00" cy="458.80" r="1.35" fill="#b40d0d"/>
<circle cx="91.00" cy="457.80" r="1.35" fill="#b40d0d"/>
<circle cx="85.00" cy="464.20" r="1.35" fill="#b40d0d"/>
<circle cx="87.00" cy="463.80" r="1.35" fill="#b40d0d"/>
<circle cx="91.00" cy="463.80" r="1.35" fill="#b40d0d"/>
<circle cx="79.00" cy="466.50" r="1.35" fill="#b40d0d"/>
<circle cx="83.00" cy="467.80" r="1.35" fill="#b40d0d"/>
<circle cx="83.00" cy="469.00" r="1.35" fill="#b40d0d"/>
<circle cx="87.00" cy="468.20" r="1.35" fill="#b40d0d"/>
<circle cx="91.00" cy="467.00" r="1.35" fill="#b40d0d"/>
<circle cx="91.00" cy="469.50" r="1.35" fill="#b40d0d"/>
<circle cx="95.20" cy="466.20" r="1.35" fill="#b40d0d"/>
<circle cx="87.00" cy="472.50" r="1.35" fill="#b40d0d"/>
<circle cx="87.00" cy="480.50" r="1.35" fill="#b40d0d"/>
<circle cx="87.00" cy="491.50" r="1.35" fill="#b40d0d"/>
<circle cx="91.00" cy="490.00" r="1.35" fill="#b40d0d"/>
<line x1="126.70" y1="466.00" x2="126.70" y2="510.30" stroke="#3c3c3c" stroke-width="0.8"/>
<line x1="113.30" y1="486.40" x2="140.10" y2="486.40" stroke="#3c3c3c" stroke-width="1.0"/>
<line x1="120.10" y1="466.00" x2="133.30" y2="466.00" stroke="#3c3c3c" stroke-width="1.0"/>
<line x1="120.10" y1="510.30" x2="133.30" y2="510.30" stroke="#3c3c3c" stroke-width="1.0"/>
<circle cx="126.60" cy="454.10" r="1.35" fill="#000000"/>
<circle cx="122.50" cy="461.60" r="1.35" fill="#000000"/>
<circle cx="126.60" cy="462.00" r="1.35" fill="#000000"/>
<circle cx="130.75" cy="461.85" r="1.35" fill="#000000"/>
<circle cx="134.90" cy="461.25" r="1.35" fill="#000000"/>
<circle cx="118.75" cy="474.20" r="1.35" fill="#000000"/>
<circle cx="122.50" cy="474.20" r="1.35" fill="#000000"/>
<circle cx="126.60" cy="474.20" r="1.35" fill="#000000"/>
<circle cx="130.75" cy="474.20" r="1.35" fill="#000000"/>
<circle cx="134.50" cy="474.20" r="1.35" fill="#000000"/>
<circle cx="118.75" cy="476.60" r="1.35" fill="#000000"/>
<circle cx="122.50" cy="476.60" r="1.35" fill="#000000"/>
<circle cx="126.60" cy="476.60" r="1.35" fill="#000000"/>
<circle cx="130.75" cy="476.60" r="1.35" fill="#000000"/>
<circle cx="134.50" cy="476.60" r="1.35" fill="#000000"/>
<circle cx="118.75" cy="480.90" r="1.35" fill="#000000"/>
<circle cx="122.50" cy="483.20" r="1.35" fill="#000000"/>
<circle cx="126.60" cy="479.80" r="1.35" fill="#000000"/>
<circle cx="130.75" cy="481.90" r="1.35" fill="#000000"/>
<circle cx="118.75" cy="481.10" r="1.35" fill="#000000"/>
<circle cx="126.60" cy="485.25" r="1.35" fill="#000000"/>
<circle cx="122.50" cy="489.40" r="1.35" fill="#000000"/>
<circle cx="126.60" cy="491.25" r="1.35" fill="#000000"/>
<circle cx="130.75" cy="491.25" r="1.35" fill="#000000"/>
<circle cx="134.50" cy="489.00" r="1.35" fill="#000000"/>
<circle cx="126.60" cy="496.50" r="1.35" fill="#000000"/>
<circle cx="118.75" cy="499.90" r="1.35" fill="#000000"/>
<circle cx="122.50" cy="500.25" r="1.35" fill="#000000"/>
<circle cx="126.60" cy="501.75" r="1.35" fill="#000000"/>
<circle cx="128.50" cy="499.10" r="1.35" fill="#000000"/>
<circle cx="130.75" cy="501.00" r="1.35" fill="#000000"/>
<circle cx="130.75" cy="503.25" r="1.35" fill="#000000"/>
<circle cx="134.50" cy="500.25" r="1.35" fill="#000000"/>
<circle cx="122.50" cy="504.00" r="1.35" fill="#000000"/>
<circle cx="126.60" cy="506.25" r="1.35" fill="#000000"/>
<circle cx="126.60" cy="515.50" r="1.35" fill="#000000"/>
<circle cx="122.50" cy="517.40" r="1.35" fill="#000000"/>
<circle cx="126.60" cy="519.60" r="1.35" fill="#000000"/>
<circle cx="130.75" cy="521.50" r="1.35" fill="#000000"/>
<circle cx="126.60" cy="524.90" r="1.35" fill="#000000"/>
<circle cx="122.50" cy="526.40" r="1.35" fill="#000000"/>
<circle cx="126.60" cy="529.00" r="1.35" fill="#000000"/>
<circle cx="120.60" cy="530.50" r="1.35" fill="#000000"/>
<circle cx="118.75" cy="533.90" r="1.35" fill="#000000"/>
<circle cx="126.52" cy="462.53" r="1.35" fill="#000000"/>
<circle cx="129.61" cy="462.57" r="1.35" fill="#000000"/>
<circle cx="123.79" cy="462.20" r="1.35" fill="#000000"/>
<circle cx="132.36" cy="462.74" r="1.35" fill="#000000"/>
<circle cx="120.53" cy="462.31" r="1.35" fill="#000000"/>
<circle cx="128.55" cy="464.43" r="1.35" fill="#000000"/>
<circle cx="125.44" cy="464.43" r="1.35" fill="#000000"/>
<circle cx="131.30" cy="464.21" r="1.35" fill="#000000"/>
<circle cx="122.29" cy="464.71" r="1.35" fill="#000000"/>
<circle cx="134.22" cy="464.62" r="1.35" fill="#000000"/>
<circle cx="119.32" cy="464.14" r="1.35" fill="#000000"/>
<circle cx="126.88" cy="466.46" r="1.35" fill="#000000"/>
<circle cx="129.56" cy="466.07" r="1.35" fill="#000000"/>
<circle cx="123.96" cy="466.38" r="1.35" fill="#000000"/>
<circle cx="132.85" cy="466.67" r="1.35" fill="#000000"/>
<circle cx="120.85" cy="466.69" r="1.35" fill="#000000"/>
<circle cx="135.63" cy="466.61" r="1.35" fill="#000000"/>
<circle cx="117.66" cy="466.70" r="1.35" fill="#000000"/>
<circle cx="128.47" cy="468.07" r="1.35" fill="#000000"/>
<circle cx="124.95" cy="468.15" r="1.35" fill="#000000"/>
<circle cx="131.53" cy="468.31" r="1.35" fill="#000000"/>
<circle cx="122.29" cy="468.21" r="1.35" fill="#000000"/>
<circle cx="134.21" cy="468.27" r="1.35" fill="#000000"/>
<circle cx="119.10" cy="468.41" r="1.35" fill="#000000"/>
<circle cx="137.26" cy="468.63" r="1.35" fill="#000000"/>
<circle cx="116.33" cy="468.65" r="1.35" fill="#000000"/>
<circle cx="126.95" cy="470.64" r="1.35" fill="#000000"/>
<circle cx="129.82" cy="470.06" r="1.35" fill="#000000"/>
<circle cx="123.95" cy="470.63" r="1.35" fill="#000000"/>
<circle cx="132.98" cy="470.35" r="1.35" fill="#000000"/>
<circle cx="120.85" cy="470.10" r="1.35" fill="#000000"/>
<circle cx="135.93" cy="470.35" r="1.35" fill="#000000"/>
<circle cx="117.55" cy="469.99" r="1.35" fill="#000000"/>
<rect x="121.50" y="532.70" width="14.50" height="2.70" fill="#000000"/>
<path d="M166.20 440.71L167.89 442.40L166.20 444.09L164.51 442.40Z" fill="#10108a"/>
<path d="M158.30 443.81L159.99 445.50L158.30 447.19L156.61 445.50Z" fill="#10108a"/>
<path d="M170.10 445.11L171.79 446.80L170.10 448.49L168.41 446.80Z" fill="#10108a"/>
<path d="M162.20 447.31L163.89 449.00L162.20 450.69L160.51 449.00Z" fill="#10108a"/>
<path d="M166.20 446.91L167.89 448.60L166.20 450.29L164.51 448.60Z" fill="#10108a"/>
<path d="M156.10 449.06L157.79 450.75L156.10 452.44L154.41 450.75Z" fill="#10108a"/>
<path d="M176.25 449.06L177.94 450.75L176.25 452.44L174.56 450.75Z" fill="#10108a"/>
<path d="M166.22 448.11L167.91 449.80L166.22 451.49L164.53 449.80Z" fill="#10108a"/>
<path d="M169.56 448.34L171.25 450.02L169.56 451.71L167.88 450.02Z" fill="#10108a"/>
<path d="M162.81 448.15L164.50 449.84L162.81 451.52L161.12 449.84Z" fill="#10108a"/>
<path d="M168.40 450.14L170.09 451.83L168.40 453.52L166.71 451.83Z" fill="#10108a"/>
<path d="M165.03 450.37L166.72 452.06L165.03 453.75L163.34 452.06Z" fill="#10108a"/>
<path d="M171.53 450.30L173.22 451.99L171.53 453.68L169.85 451.99Z" fill="#10108a"/>
<path d="M161.36 450.11L163.05 451.80L161.36 453.49L159.67 451.80Z" fill="#10108a"/>
<path d="M175.25 450.15L176.94 451.83L175.25 453.52L173.56 451.83Z" fill="#10108a"/>
<path d="M158.24 450.46L159.93 452.15L158.24 453.83L156.55 452.15Z" fill="#10108a"/>
<path d="M166.07 452.14L167.76 453.83L166.07 455.52L164.38 453.83Z" fill="#10108a"/>
<path d="M169.78 452.53L171.47 454.22L169.78 455.91L168.10 454.22Z" fill="#10108a"/>
<path d="M162.77 452.39L164.46 454.08L162.77 455.77L161.09 454.08Z" fill="#10108a"/>
<path d="M173.11 452.51L174.79 454.20L173.11 455.89L171.42 454.20Z" fill="#10108a"/>
<path d="M159.90 452.50L161.59 454.18L159.90 455.87L158.21 454.18Z" fill="#10108a"/>
<path d="M176.39 452.49L178.07 454.18L176.39 455.87L174.70 454.18Z" fill="#10108a"/>
<path d="M156.16 452.55L157.84 454.24L156.16 455.92L154.47 454.24Z" fill="#10108a"/>
<path d="M168.08 454.70L169.77 456.38L168.08 458.07L166.39 456.38Z" fill="#10108a"/>
<path d="M165.04 454.64L166.73 456.33L165.04 458.01L163.35 456.33Z" fill="#10108a"/>
<path d="M171.73 454.64L173.42 456.32L171.73 458.01L170.04 456.32Z" fill="#10108a"/>
<path d="M161.36 454.18L163.05 455.87L161.36 457.56L159.68 455.87Z" fill="#10108a"/>
<path d="M175.24 454.39L176.93 456.07L175.24 457.76L173.55 456.07Z" fill="#10108a"/>
<path d="M157.56 454.37L159.25 456.05L157.56 457.74L155.87 456.05Z" fill="#10108a"/>
<path d="M166.34 456.30L168.03 457.99L166.34 459.68L164.65 457.99Z" fill="#10108a"/>
<path d="M170.12 456.24L171.81 457.93L170.12 459.62L168.43 457.93Z" fill="#10108a"/>
<path d="M163.28 456.55L164.97 458.23L163.28 459.92L161.60 458.23Z" fill="#10108a"/>
<path d="M172.98 456.41L174.66 458.10L172.98 459.79L171.29 458.10Z" fill="#10108a"/>
<path d="M159.57 456.24L161.25 457.93L159.57 459.62L157.88 457.93Z" fill="#10108a"/>
<path d="M176.78 456.62L178.47 458.31L176.78 459.99L175.10 458.31Z" fill="#10108a"/>
<path d="M156.54 456.74L158.23 458.43L156.54 460.12L154.85 458.43Z" fill="#10108a"/>
<path d="M168.30 458.96L169.99 460.65L168.30 462.34L166.61 460.65Z" fill="#10108a"/>
<path d="M165.00 458.71L166.69 460.40L165.00 462.09L163.31 460.40Z" fill="#10108a"/>
<path d="M171.53 458.63L173.21 460.32L171.53 462.00L169.84 460.32Z" fill="#10108a"/>
<path d="M161.52 458.91L163.21 460.60L161.52 462.29L159.83 460.60Z" fill="#10108a"/>
<path d="M175.13 458.85L176.82 460.54L175.13 462.22L173.44 460.54Z" fill="#10108a"/>
<path d="M157.57 458.56L159.26 460.24L157.57 461.93L155.88 460.24Z" fill="#10108a"/>
<path d="M166.11 460.77L167.80 462.46L166.11 464.15L164.42 462.46Z" fill="#10108a"/>
<path d="M169.86 460.76L171.54 462.44L169.86 464.13L168.17 462.44Z" fill="#10108a"/>
<path d="M163.25 460.52L164.94 462.21L163.25 463.89L161.56 462.21Z" fill="#10108a"/>
<path d="M173.36 460.77L175.05 462.46L173.36 464.15L171.67 462.46Z" fill="#10108a"/>
<path d="M159.40 461.05L161.09 462.73L159.40 464.42L157.71 462.73Z" fill="#10108a"/>
<path d="M176.29 460.69L177.97 462.38L176.29 464.06L174.60 462.38Z" fill="#10108a"/>
<path d="M156.22 460.78L157.91 462.47L156.22 464.15L154.54 462.47Z" fill="#10108a"/>
<path d="M168.44 462.85L170.12 464.54L168.44 466.22L166.75 464.54Z" fill="#10108a"/>
<path d="M164.97 462.67L166.66 464.36L164.97 466.04L163.28 464.36Z" fill="#10108a"/>
<path d="M171.49 462.57L173.17 464.25L171.49 465.94L169.80 464.25Z" fill="#10108a"/>
<path d="M161.40 462.76L163.09 464.45L161.40 466.13L159.71 464.45Z" fill="#10108a"/>
<path d="M175.10 462.54L176.79 464.23L175.10 465.92L173.41 464.23Z" fill="#10108a"/>
<path d="M157.88 463.13L159.56 464.82L157.88 466.51L156.19 464.82Z" fill="#10108a"/>
<path d="M166.06 465.02L167.75 466.71L166.06 468.40L164.37 466.71Z" fill="#10108a"/>
<path d="M169.92 465.07L171.61 466.76L169.92 468.45L168.24 466.76Z" fill="#10108a"/>
<path d="M163.04 464.91L164.73 466.60L163.04 468.29L161.35 466.60Z" fill="#10108a"/>
<path d="M173.52 464.76L175.21 466.45L173.52 468.14L171.83 466.45Z" fill="#10108a"/>
<path d="M159.74 465.03L161.43 466.72L159.74 468.41L158.06 466.72Z" fill="#10108a"/>
<path d="M176.76 464.90L178.45 466.58L176.76 468.27L175.07 466.58Z" fill="#10108a"/>
<path d="M155.86 465.11L157.55 466.79L155.86 468.48L154.17 466.79Z" fill="#10108a"/>
<path d="M167.95 467.21L169.63 468.90L167.95 470.59L166.26 468.90Z" fill="#10108a"/>
<path d="M165.04 467.21L166.73 468.89L165.04 470.58L163.35 468.89Z" fill="#10108a"/>
<path d="M171.43 467.26L173.12 468.95L171.43 470.64L169.74 468.95Z" fill="#10108a"/>
<path d="M161.22 466.89L162.91 468.57L161.22 470.26L159.53 468.57Z" fill="#10108a"/>
<path d="M174.95 467.12L176.64 468.81L174.95 470.49L173.26 468.81Z" fill="#10108a"/>
<path d="M158.03 467.05L159.72 468.74L158.03 470.42L156.34 468.74Z" fill="#10108a"/>
<line x1="153.10" y1="459.30" x2="179.70" y2="459.30" stroke="#333" stroke-width="1.0"/>
<text transform="translate(215.80 430.70) scale(1.0 1)" font-size="10.0" font-weight="bold" fill="#000">H</text>
<text x="223.70" y="478.65" font-size="6.7" font-weight="bold" text-anchor="middle" fill="#1a1a1a" stroke="#1a1a1a" stroke-width="0.2" transform="rotate(-90 223.70 478.65)">Expression of TMC8</text>
<line x1="236.80" y1="427.60" x2="236.80" y2="533.00" stroke="#a8a8a8" stroke-width="1.8"/>
<line x1="235.00" y1="427.60" x2="236.80" y2="427.60" stroke="#666" stroke-width="0.9"/>
<text x="235.80" y="430.00" font-size="6.9" font-weight="bold" text-anchor="end" fill="#1a1a1a" stroke="#1a1a1a" stroke-width="0.2">15</text>
<line x1="235.00" y1="462.40" x2="236.80" y2="462.40" stroke="#666" stroke-width="0.9"/>
<text x="235.80" y="464.80" font-size="6.9" font-weight="bold" text-anchor="end" fill="#1a1a1a" stroke="#1a1a1a" stroke-width="0.2">10</text>
<line x1="235.00" y1="497.60" x2="236.80" y2="497.60" stroke="#666" stroke-width="0.9"/>
<text x="235.80" y="500.00" font-size="6.9" font-weight="bold" text-anchor="end" fill="#1a1a1a" stroke="#1a1a1a" stroke-width="0.2">5</text>
<line x1="235.00" y1="533.00" x2="236.80" y2="533.00" stroke="#666" stroke-width="0.9"/>
<text x="235.80" y="535.40" font-size="6.9" font-weight="bold" text-anchor="end" fill="#1a1a1a" stroke="#1a1a1a" stroke-width="0.2">0</text>
<line x1="235.90" y1="533.00" x2="392.30" y2="533.00" stroke="#8a8a8a" stroke-width="1.5"/>
<line x1="256.80" y1="533.00" x2="256.80" y2="534.60" stroke="#6e6e6e" stroke-width="0.6"/>
<text x="256.80" y="541.50" font-size="6.8" font-weight="bold" text-anchor="middle" fill="#1a1a1a" stroke="#1a1a1a" stroke-width="0.2">GC</text>
<line x1="296.20" y1="533.00" x2="296.20" y2="534.60" stroke="#6e6e6e" stroke-width="0.6"/>
<text x="296.20" y="541.50" font-size="6.8" font-weight="bold" text-anchor="middle" fill="#1a1a1a" stroke="#1a1a1a" stroke-width="0.2">EBV-GC</text>
<line x1="335.40" y1="533.00" x2="335.40" y2="534.60" stroke="#6e6e6e" stroke-width="0.6"/>
<text x="335.40" y="541.50" font-size="6.8" font-weight="bold" text-anchor="middle" fill="#1a1a1a" stroke="#1a1a1a" stroke-width="0.2">NPC</text>
<line x1="375.20" y1="533.00" x2="375.20" y2="534.60" stroke="#6e6e6e" stroke-width="0.6"/>
<text x="375.20" y="541.50" font-size="6.8" font-weight="bold" text-anchor="middle" fill="#1a1a1a" stroke="#1a1a1a" stroke-width="0.2">EBV-NPC</text>
<line x1="257.00" y1="441.00" x2="296.20" y2="441.00" stroke="#3a3a3a" stroke-width="1.0"/>
<line x1="257.00" y1="439.40" x2="257.00" y2="442.60" stroke="#222" stroke-width="1.2"/>
<line x1="296.20" y1="439.40" x2="296.20" y2="442.60" stroke="#222" stroke-width="1.2"/>
<text x="276.60" y="440.30" font-size="5.5" font-weight="normal" text-anchor="middle" fill="#222" stroke="#222" stroke-width="0.12">p&lt;0.0001</text>
<line x1="335.90" y1="440.80" x2="375.20" y2="440.80" stroke="#3a3a3a" stroke-width="1.0"/>
<line x1="335.90" y1="439.20" x2="335.90" y2="442.40" stroke="#222" stroke-width="1.2"/>
<line x1="375.20" y1="439.20" x2="375.20" y2="442.40" stroke="#222" stroke-width="1.2"/>
<text x="355.55" y="440.10" font-size="5.5" font-weight="normal" text-anchor="middle" fill="#222" stroke="#222" stroke-width="0.12">p&lt;0.0001</text>
<line x1="256.60" y1="465.00" x2="256.60" y2="479.00" stroke="#3c3c3c" stroke-width="0.8"/>
<line x1="243.30" y1="472.00" x2="269.90" y2="472.00" stroke="#3c3c3c" stroke-width="1.0"/>
<line x1="250.10" y1="465.00" x2="263.10" y2="465.00" stroke="#3c3c3c" stroke-width="1.0"/>
<line x1="250.10" y1="479.00" x2="263.10" y2="479.00" stroke="#3c3c3c" stroke-width="1.0"/>
<circle cx="256.60" cy="458.50" r="1.35" fill="#000000"/>
<circle cx="248.50" cy="461.60" r="1.35" fill="#000000"/>
<circle cx="258.80" cy="461.60" r="1.35" fill="#000000"/>
<circle cx="252.70" cy="463.10" r="1.35" fill="#000000"/>
<circle cx="260.60" cy="463.70" r="1.35" fill="#000000"/>
<circle cx="264.90" cy="463.10" r="1.35" fill="#000000"/>
<circle cx="256.60" cy="465.30" r="1.35" fill="#000000"/>
<circle cx="248.50" cy="466.60" r="1.35" fill="#000000"/>
<circle cx="264.90" cy="466.00" r="1.35" fill="#000000"/>
<circle cx="260.60" cy="467.90" r="1.35" fill="#000000"/>
<circle cx="252.70" cy="469.10" r="1.35" fill="#000000"/>
<circle cx="256.60" cy="470.00" r="1.35" fill="#000000"/>
<circle cx="252.70" cy="471.40" r="1.35" fill="#000000"/>
<circle cx="260.60" cy="472.00" r="1.35" fill="#000000"/>
<circle cx="264.90" cy="471.40" r="1.35" fill="#000000"/>
<circle cx="254.40" cy="475.80" r="1.35" fill="#000000"/>
<circle cx="256.60" cy="474.90" r="1.35" fill="#000000"/>
<circle cx="258.80" cy="475.80" r="1.35" fill="#000000"/>
<circle cx="248.50" cy="476.10" r="1.35" fill="#000000"/>
<circle cx="264.90" cy="476.10" r="1.35" fill="#000000"/>
<circle cx="252.70" cy="478.70" r="1.35" fill="#000000"/>
<circle cx="256.60" cy="478.70" r="1.35" fill="#000000"/>
<circle cx="260.60" cy="478.20" r="1.35" fill="#000000"/>
<circle cx="248.50" cy="480.00" r="1.35" fill="#000000"/>
<circle cx="264.90" cy="480.40" r="1.35" fill="#000000"/>
<circle cx="252.70" cy="482.50" r="1.35" fill="#000000"/>
<circle cx="256.60" cy="483.70" r="1.35" fill="#000000"/>
<circle cx="260.60" cy="483.10" r="1.35" fill="#000000"/>
<line x1="296.20" y1="451.20" x2="296.20" y2="463.20" stroke="#3c3c3c" stroke-width="0.8"/>
<line x1="282.90" y1="457.30" x2="309.50" y2="457.30" stroke="#3c3c3c" stroke-width="1.0"/>
<line x1="289.50" y1="451.20" x2="302.90" y2="451.20" stroke="#3c3c3c" stroke-width="1.0"/>
<line x1="289.50" y1="463.20" x2="302.90" y2="463.20" stroke="#3c3c3c" stroke-width="1.0"/>
<path d="M292.25 445.31L293.94 447.00L292.25 448.69L290.56 447.00Z" fill="#b40d0d"/>
<path d="M304.30 445.11L305.99 446.80L304.30 448.49L302.61 446.80Z" fill="#b40d0d"/>
<path d="M296.20 447.06L297.89 448.75L296.20 450.44L294.51 448.75Z" fill="#b40d0d"/>
<path d="M300.30 446.91L301.99 448.60L300.30 450.29L298.61 448.60Z" fill="#b40d0d"/>
<path d="M287.90 451.41L289.59 453.10L287.90 454.79L286.21 453.10Z" fill="#b40d0d"/>
<path d="M292.25 451.91L293.94 453.60L292.25 455.29L290.56 453.60Z" fill="#b40d0d"/>
<path d="M296.20 452.31L297.89 454.00L296.20 455.69L294.51 454.00Z" fill="#b40d0d"/>
<path d="M300.30 451.91L301.99 453.60L300.30 455.29L298.61 453.60Z" fill="#b40d0d"/>
<path d="M304.30 450.81L305.99 452.50L304.30 454.19L302.61 452.50Z" fill="#b40d0d"/>
<path d="M300.30 453.61L301.99 455.30L300.30 456.99L298.61 455.30Z" fill="#b40d0d"/>
<path d="M287.90 458.41L289.59 460.10L287.90 461.79L286.21 460.10Z" fill="#b40d0d"/>
<path d="M290.00 458.91L291.69 460.60L290.00 462.29L288.31 460.60Z" fill="#b40d0d"/>
<path d="M292.25 459.31L293.94 461.00L292.25 462.69L290.56 461.00Z" fill="#b40d0d"/>
<path d="M294.40 458.41L296.09 460.10L294.40 461.79L292.71 460.10Z" fill="#b40d0d"/>
<path d="M296.20 457.41L297.89 459.10L296.20 460.79L294.51 459.10Z" fill="#b40d0d"/>
<path d="M298.40 458.91L300.09 460.60L298.40 462.29L296.71 460.60Z" fill="#b40d0d"/>
<path d="M300.30 459.31L301.99 461.00L300.30 462.69L298.61 461.00Z" fill="#b40d0d"/>
<path d="M302.30 458.41L303.99 460.10L302.30 461.79L300.61 460.10Z" fill="#b40d0d"/>
<path d="M304.30 458.91L305.99 460.60L304.30 462.29L302.61 460.60Z" fill="#b40d0d"/>
<path d="M292.25 461.71L293.94 463.40L292.25 465.09L290.56 463.40Z" fill="#b40d0d"/>
<path d="M296.20 461.21L297.89 462.90L296.20 464.59L294.51 462.90Z" fill="#b40d0d"/>
<path d="M304.30 461.71L305.99 463.40L304.30 465.09L302.61 463.40Z" fill="#b40d0d"/>
<path d="M296.20 465.01L297.89 466.70L296.20 468.39L294.51 466.70Z" fill="#b40d0d"/>
<path d="M300.30 464.56L301.99 466.25L300.30 467.94L298.61 466.25Z" fill="#b40d0d"/>
<line x1="335.50" y1="470.00" x2="335.50" y2="493.00" stroke="#888" stroke-width="0.8"/>
<line x1="322.20" y1="481.80" x2="348.80" y2="481.80" stroke="#888" stroke-width="1.0"/>
<line x1="328.80" y1="470.00" x2="342.20" y2="470.00" stroke="#888" stroke-width="1.0"/>
<line x1="328.80" y1="493.00" x2="342.20" y2="493.00" stroke="#888" stroke-width="1.0"/>
<circle cx="333.60" cy="461.20" r="1.35" fill="#000000"/>
<circle cx="337.60" cy="460.80" r="1.35" fill="#000000"/>
<circle cx="343.60" cy="462.00" r="1.35" fill="#000000"/>
<circle cx="335.38" cy="463.58" r="1.35" fill="#000000"/>
<circle cx="338.96" cy="463.84" r="1.35" fill="#000000"/>
<circle cx="331.93" cy="463.85" r="1.35" fill="#000000"/>
<circle cx="337.23" cy="465.74" r="1.35" fill="#000000"/>
<circle cx="333.29" cy="465.74" r="1.35" fill="#000000"/>
<circle cx="340.87" cy="466.08" r="1.35" fill="#000000"/>
<circle cx="329.71" cy="466.17" r="1.35" fill="#000000"/>
<circle cx="345.18" cy="465.84" r="1.35" fill="#000000"/>
<circle cx="325.77" cy="465.84" r="1.35" fill="#000000"/>
<circle cx="335.17" cy="468.50" r="1.35" fill="#000000"/>
<circle cx="339.08" cy="468.15" r="1.35" fill="#000000"/>
<circle cx="331.97" cy="468.36" r="1.35" fill="#000000"/>
<circle cx="343.41" cy="468.74" r="1.35" fill="#000000"/>
<circle cx="328.01" cy="468.22" r="1.35" fill="#000000"/>
<circle cx="337.15" cy="470.67" r="1.35" fill="#000000"/>
<circle cx="333.77" cy="470.86" r="1.35" fill="#000000"/>
<circle cx="341.06" cy="470.51" r="1.35" fill="#000000"/>
<circle cx="329.70" cy="470.77" r="1.35" fill="#000000"/>
<circle cx="344.70" cy="470.67" r="1.35" fill="#000000"/>
<circle cx="325.86" cy="470.79" r="1.35" fill="#000000"/>
<circle cx="335.50" cy="473.35" r="1.35" fill="#000000"/>
<circle cx="339.54" cy="473.16" r="1.35" fill="#000000"/>
<circle cx="331.42" cy="473.16" r="1.35" fill="#000000"/>
<circle cx="342.90" cy="473.35" r="1.35" fill="#000000"/>
<circle cx="327.88" cy="473.17" r="1.35" fill="#000000"/>
<circle cx="337.12" cy="475.93" r="1.35" fill="#000000"/>
<circle cx="333.69" cy="475.84" r="1.35" fill="#000000"/>
<circle cx="341.34" cy="476.00" r="1.35" fill="#000000"/>
<circle cx="329.47" cy="475.53" r="1.35" fill="#000000"/>
<circle cx="344.98" cy="475.89" r="1.35" fill="#000000"/>
<circle cx="326.00" cy="475.75" r="1.35" fill="#000000"/>
<circle cx="335.37" cy="478.02" r="1.35" fill="#000000"/>
<circle cx="339.56" cy="478.54" r="1.35" fill="#000000"/>
<circle cx="331.70" cy="478.18" r="1.35" fill="#000000"/>
<circle cx="342.84" cy="478.27" r="1.35" fill="#000000"/>
<circle cx="327.70" cy="478.29" r="1.35" fill="#000000"/>
<circle cx="337.24" cy="480.63" r="1.35" fill="#000000"/>
<circle cx="333.86" cy="480.52" r="1.35" fill="#000000"/>
<circle cx="341.22" cy="480.52" r="1.35" fill="#000000"/>
<circle cx="329.79" cy="480.91" r="1.35" fill="#000000"/>
<circle cx="344.99" cy="480.98" r="1.35" fill="#000000"/>
<circle cx="325.94" cy="480.62" r="1.35" fill="#000000"/>
<circle cx="335.60" cy="483.10" r="1.35" fill="#000000"/>
<circle cx="339.42" cy="482.95" r="1.35" fill="#000000"/>
<circle cx="331.36" cy="483.05" r="1.35" fill="#000000"/>
<circle cx="342.80" cy="482.92" r="1.35" fill="#000000"/>
<circle cx="327.97" cy="483.23" r="1.35" fill="#000000"/>
<circle cx="337.69" cy="485.67" r="1.35" fill="#000000"/>
<circle cx="333.64" cy="485.44" r="1.35" fill="#000000"/>
<circle cx="341.18" cy="485.40" r="1.35" fill="#000000"/>
<circle cx="329.52" cy="485.57" r="1.35" fill="#000000"/>
<circle cx="345.09" cy="485.42" r="1.35" fill="#000000"/>
<circle cx="326.17" cy="485.57" r="1.35" fill="#000000"/>
<circle cx="335.37" cy="488.25" r="1.35" fill="#000000"/>
<circle cx="338.97" cy="487.84" r="1.35" fill="#000000"/>
<circle cx="331.57" cy="488.12" r="1.35" fill="#000000"/>
<circle cx="342.93" cy="488.34" r="1.35" fill="#000000"/>
<circle cx="327.62" cy="487.97" r="1.35" fill="#000000"/>
<circle cx="337.38" cy="490.62" r="1.35" fill="#000000"/>
<circle cx="333.43" cy="490.21" r="1.35" fill="#000000"/>
<circle cx="341.37" cy="490.65" r="1.35" fill="#000000"/>
<circle cx="329.85" cy="490.73" r="1.35" fill="#000000"/>
<circle cx="344.93" cy="490.41" r="1.35" fill="#000000"/>
<circle cx="326.00" cy="490.19" r="1.35" fill="#000000"/>
<circle cx="327.60" cy="494.00" r="1.35" fill="#000000"/>
<circle cx="327.60" cy="496.40" r="1.35" fill="#000000"/>
<circle cx="331.60" cy="494.40" r="1.35" fill="#000000"/>
<circle cx="331.60" cy="497.20" r="1.35" fill="#000000"/>
<circle cx="335.60" cy="495.60" r="1.35" fill="#000000"/>
<circle cx="339.60" cy="494.00" r="1.35" fill="#000000"/>
<circle cx="339.60" cy="496.80" r="1.35" fill="#000000"/>
<circle cx="343.60" cy="494.00" r="1.35" fill="#000000"/>
<circle cx="343.60" cy="496.00" r="1.35" fill="#000000"/>
<circle cx="327.60" cy="500.00" r="1.35" fill="#000000"/>
<circle cx="331.60" cy="501.60" r="1.35" fill="#000000"/>
<circle cx="335.60" cy="499.60" r="1.35" fill="#000000"/>
<circle cx="339.60" cy="501.60" r="1.35" fill="#000000"/>
<circle cx="343.60" cy="501.20" r="1.35" fill="#000000"/>
<circle cx="335.60" cy="504.00" r="1.35" fill="#000000"/>
<path d="M379.50 444.81L381.19 446.50L379.50 448.19L377.81 446.50Z" fill="#10108a"/>
<path d="M369.40 447.81L371.09 449.50L369.40 451.19L367.71 449.50Z" fill="#10108a"/>
<path d="M373.10 448.21L374.79 449.90L373.10 451.59L371.41 449.90Z" fill="#10108a"/>
<path d="M375.40 446.71L377.09 448.40L375.40 450.09L373.71 448.40Z" fill="#10108a"/>
<path d="M377.25 447.81L378.94 449.50L377.25 451.19L375.56 449.50Z" fill="#10108a"/>
<path d="M383.25 448.21L384.94 449.90L383.25 451.59L381.56 449.90Z" fill="#10108a"/>
<path d="M375.30 450.15L376.98 451.84L375.30 453.53L373.61 451.84Z" fill="#10108a"/>
<path d="M378.82 449.99L380.50 451.67L378.82 453.36L377.13 451.67Z" fill="#10108a"/>
<path d="M371.87 450.25L373.56 451.94L371.87 453.62L370.19 451.94Z" fill="#10108a"/>
<path d="M381.89 450.01L383.58 451.70L381.89 453.39L380.20 451.70Z" fill="#10108a"/>
<path d="M368.63 449.99L370.32 451.68L368.63 453.37L366.95 451.68Z" fill="#10108a"/>
<path d="M376.72 452.15L378.40 453.84L376.72 455.53L375.03 453.84Z" fill="#10108a"/>
<path d="M373.93 452.19L375.61 453.88L373.93 455.57L372.24 453.88Z" fill="#10108a"/>
<path d="M380.34 451.95L382.03 453.64L380.34 455.32L378.66 453.64Z" fill="#10108a"/>
<path d="M370.30 451.81L371.99 453.50L370.30 455.19L368.62 453.50Z" fill="#10108a"/>
<path d="M383.71 451.92L385.40 453.61L383.71 455.30L382.02 453.61Z" fill="#10108a"/>
<path d="M366.90 452.40L368.59 454.09L366.90 455.77L365.22 454.09Z" fill="#10108a"/>
<path d="M375.19 454.35L376.88 456.04L375.19 457.72L373.50 456.04Z" fill="#10108a"/>
<path d="M378.68 454.20L380.37 455.88L378.68 457.57L377.00 455.88Z" fill="#10108a"/>
<path d="M372.09 453.79L373.78 455.48L372.09 457.16L370.40 455.48Z" fill="#10108a"/>
<path d="M382.05 453.84L383.74 455.53L382.05 457.22L380.36 455.53Z" fill="#10108a"/>
<path d="M368.64 453.75L370.32 455.44L368.64 457.13L366.95 455.44Z" fill="#10108a"/>
<path d="M384.89 453.92L386.58 455.61L384.89 457.29L383.20 455.61Z" fill="#10108a"/>
<path d="M365.06 453.93L366.75 455.62L365.06 457.31L363.37 455.62Z" fill="#10108a"/>
<path d="M377.20 456.31L378.88 458.00L377.20 459.69L375.51 458.00Z" fill="#10108a"/>
<path d="M373.60 455.69L375.28 457.38L373.60 459.06L371.91 457.38Z" fill="#10108a"/>
<path d="M380.14 455.66L381.83 457.34L380.14 459.03L378.45 457.34Z" fill="#10108a"/>
<path d="M370.15 456.05L371.84 457.73L370.15 459.42L368.46 457.73Z" fill="#10108a"/>
<path d="M383.63 455.63L385.32 457.32L383.63 459.01L381.94 457.32Z" fill="#10108a"/>
<path d="M367.04 455.91L368.73 457.60L367.04 459.28L365.35 457.60Z" fill="#10108a"/>
<path d="M375.23 457.66L376.92 459.34L375.23 461.03L373.54 459.34Z" fill="#10108a"/>
<path d="M378.53 457.63L380.21 459.32L378.53 461.01L376.84 459.32Z" fill="#10108a"/>
<path d="M372.13 458.02L373.82 459.70L372.13 461.39L370.44 459.70Z" fill="#10108a"/>
<path d="M381.99 457.85L383.68 459.54L381.99 461.22L380.30 459.54Z" fill="#10108a"/>
<path d="M369.02 457.82L370.71 459.51L369.02 461.20L367.33 459.51Z" fill="#10108a"/>
<path d="M384.99 457.82L386.68 459.51L384.99 461.20L383.31 459.51Z" fill="#10108a"/>
<path d="M365.69 457.67L367.38 459.36L365.69 461.05L364.00 459.36Z" fill="#10108a"/>
<path d="M377.13 460.17L378.82 461.86L377.13 463.54L375.45 461.86Z" fill="#10108a"/>
<path d="M373.90 459.84L375.58 461.53L373.90 463.21L372.21 461.53Z" fill="#10108a"/>
<path d="M380.22 460.12L381.90 461.81L380.22 463.50L378.53 461.81Z" fill="#10108a"/>
<path d="M370.50 460.08L372.18 461.76L370.50 463.45L368.81 461.76Z" fill="#10108a"/>
<path d="M383.32 459.94L385.01 461.63L383.32 463.31L381.64 461.63Z" fill="#10108a"/>
<path d="M367.22 459.68L368.90 461.37L367.22 463.05L365.53 461.37Z" fill="#10108a"/>
<path d="M375.10 462.05L376.78 463.74L375.10 465.43L373.41 463.74Z" fill="#10108a"/>
<path d="M378.65 461.75L380.34 463.44L378.65 465.12L376.96 463.44Z" fill="#10108a"/>
<path d="M371.99 461.64L373.68 463.33L371.99 465.02L370.30 463.33Z" fill="#10108a"/>
<path d="M381.72 461.54L383.41 463.22L381.72 464.91L380.04 463.22Z" fill="#10108a"/>
<path d="M368.63 461.57L370.32 463.25L368.63 464.94L366.94 463.25Z" fill="#10108a"/>
<path d="M385.48 462.13L387.17 463.82L385.48 465.51L383.79 463.82Z" fill="#10108a"/>
<path d="M365.46 461.53L367.15 463.21L365.46 464.90L363.78 463.21Z" fill="#10108a"/>
<path d="M377.02 463.52L378.71 465.21L377.02 466.90L375.33 465.21Z" fill="#10108a"/>
<path d="M373.56 463.50L375.25 465.19L373.56 466.88L371.87 465.19Z" fill="#10108a"/>
<path d="M380.25 463.47L381.94 465.15L380.25 466.84L378.56 465.15Z" fill="#10108a"/>
<path d="M370.20 463.58L371.88 465.26L370.20 466.95L368.51 465.26Z" fill="#10108a"/>
<path d="M383.53 464.06L385.21 465.75L383.53 467.44L381.84 465.75Z" fill="#10108a"/>
<path d="M367.11 463.96L368.79 465.65L367.11 467.34L365.42 465.65Z" fill="#10108a"/>
<path d="M375.46 465.73L377.15 467.42L375.46 469.11L373.77 467.42Z" fill="#10108a"/>
<path d="M378.30 465.40L379.99 467.09L378.30 468.78L376.61 467.09Z" fill="#10108a"/>
<path d="M371.74 465.72L373.43 467.41L371.74 469.10L370.06 467.41Z" fill="#10108a"/>
<path d="M381.79 466.01L383.48 467.70L381.79 469.39L380.10 467.70Z" fill="#10108a"/>
<path d="M368.49 465.45L370.18 467.14L368.49 468.83L366.80 467.14Z" fill="#10108a"/>
<path d="M385.30 465.79L386.99 467.47L385.30 469.16L383.61 467.47Z" fill="#10108a"/>
<path d="M365.09 465.60L366.77 467.29L365.09 468.98L363.40 467.29Z" fill="#10108a"/>
<path d="M376.91 467.89L378.60 469.58L376.91 471.26L375.22 469.58Z" fill="#10108a"/>
<path d="M373.85 467.92L375.53 469.61L373.85 471.30L372.16 469.61Z" fill="#10108a"/>
<path d="M380.28 467.97L381.96 469.66L380.28 471.34L378.59 469.66Z" fill="#10108a"/>
<path d="M370.33 467.51L372.02 469.20L370.33 470.89L368.64 469.20Z" fill="#10108a"/>
<path d="M383.30 467.89L384.99 469.58L383.30 471.27L381.61 469.58Z" fill="#10108a"/>
<path d="M367.16 467.74L368.84 469.43L367.16 471.12L365.47 469.43Z" fill="#10108a"/>
<path d="M367.10 470.31L368.79 472.00L367.10 473.69L365.41 472.00Z" fill="#10108a"/>
<path d="M377.25 470.31L378.94 472.00L377.25 473.69L375.56 472.00Z" fill="#10108a"/>
<path d="M383.25 470.31L384.94 472.00L383.25 473.69L381.56 472.00Z" fill="#10108a"/>
<path d="M371.25 472.91L372.94 474.60L371.25 476.29L369.56 474.60Z" fill="#10108a"/>
<path d="M375.40 474.06L377.09 475.75L375.40 477.44L373.71 475.75Z" fill="#10108a"/>
<path d="M379.50 472.91L381.19 474.60L379.50 476.29L377.81 474.60Z" fill="#10108a"/>
<line x1="362.00" y1="461.50" x2="388.60" y2="461.50" stroke="#333" stroke-width="1.0"/>
</svg></body></html>
